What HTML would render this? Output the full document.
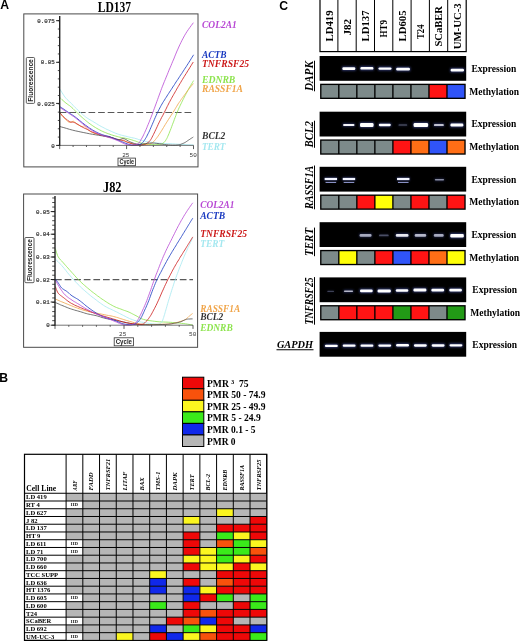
<!DOCTYPE html>
<html><head><meta charset="utf-8"><title>Figure</title>
<style>html,body{margin:0;padding:0;background:#fff}svg{display:block}</style></head>
<body><svg width="520" height="641" viewBox="0 0 520 641">
<rect x="0" y="0" width="520" height="641" fill="#fff"/>
<rect x="23.80" y="13.90" width="174.20" height="153.00" fill="#fff" stroke="#4a4a4a" stroke-width="1"/>
<line x1="59.70" y1="112.50" x2="193.50" y2="112.50" stroke="#3a3a3a" stroke-width="0.85" stroke-dasharray="6.7 2.9"/>
<polyline points="59.8,89.0 60.3,89.9 61.1,91.1 62.0,92.6 63.0,94.2 64.0,95.7 65.0,97.1 66.0,98.3 67.1,99.5 68.3,100.6 69.5,101.7 70.6,102.9 71.8,104.0 73.0,105.2 74.1,106.4 75.3,107.6 76.5,108.7 77.6,109.9 78.8,111.0 80.0,112.1 81.1,113.1 82.3,114.2 83.4,115.2 84.6,116.1 85.7,117.0 86.8,117.8 87.9,118.5 89.0,119.2 90.2,119.9 91.3,120.6 92.6,121.3 93.9,122.1 95.4,123.0 96.8,123.9 98.3,124.8 99.8,125.7 101.3,126.5 102.8,127.3 104.2,128.0 105.7,128.8 107.1,129.5 108.6,130.1 110.0,130.8 111.4,131.4 112.9,132.1 114.3,132.7 115.7,133.3 117.2,133.8 118.6,134.3 120.0,134.8 121.5,135.2 122.9,135.5 124.3,135.9 125.8,136.2 127.2,136.6 128.6,136.9 130.1,137.3 131.6,137.6 133.0,137.9 134.5,138.2 135.9,138.6 137.3,139.0 138.6,139.5 140.0,139.9 141.3,140.4 142.8,140.8 144.5,141.2 146.4,141.6 148.4,141.9 150.5,142.2 152.7,142.5 154.8,142.8 157.0,143.0 159.1,143.2 161.2,143.3 163.3,143.4 165.5,143.5 167.7,143.6 170.0,143.7 172.5,143.8 175.1,144.0 177.8,144.2 180.4,144.3 182.9,144.5 185.0,144.6 186.9,144.7 188.6,144.7 190.2,144.8 191.5,144.8 192.7,144.8 193.5,144.8" fill="none" stroke="#a4e8f0" stroke-width="0.8" stroke-linejoin="round"/>
<polyline points="59.8,97.5 60.3,98.0 61.1,98.7 62.0,99.6 63.0,100.5 64.0,101.4 65.0,102.3 66.0,103.1 67.1,103.9 68.3,104.8 69.5,105.6 70.6,106.5 71.8,107.5 73.0,108.6 74.1,109.7 75.3,110.9 76.5,112.1 77.6,113.3 78.8,114.4 80.0,115.5 81.1,116.5 82.3,117.6 83.4,118.6 84.6,119.5 85.7,120.5 86.8,121.4 87.9,122.3 89.0,123.2 90.2,124.0 91.3,124.8 92.6,125.7 93.9,126.6 95.4,127.5 96.8,128.4 98.3,129.2 99.8,130.0 101.3,130.8 102.8,131.5 104.2,132.1 105.7,132.7 107.1,133.3 108.6,133.8 110.0,134.3 111.4,134.8 112.9,135.3 114.3,135.7 115.7,136.1 117.2,136.5 118.6,136.9 120.0,137.2 121.5,137.5 122.9,137.8 124.3,138.0 125.8,138.3 127.2,138.6 128.7,139.0 130.2,139.4 131.8,139.9 133.3,140.4 134.7,140.8 135.9,141.2 136.9,141.6 137.7,141.9 138.4,142.2 139.1,142.5 140.0,142.7 141.0,143.0 142.3,143.3 143.7,143.5 145.3,143.8 146.9,144.0 148.5,144.2 150.0,144.4 151.4,144.5 152.9,144.6 154.3,144.6 155.6,144.7 156.9,144.6 158.0,144.6 158.9,144.5 159.7,144.5 160.4,144.4 161.1,144.2 161.7,144.0 162.3,143.7 162.9,143.3 163.5,142.9 164.1,142.4 164.6,141.8 165.1,141.2 165.7,140.4 166.2,139.5 166.8,138.5 167.3,137.5 167.8,136.3 168.4,135.0 169.0,133.6 169.6,132.0 170.3,130.3 171.0,128.5 171.7,126.6 172.4,124.7 173.1,122.9 173.8,121.1 174.4,119.3 175.1,117.5 175.8,115.8 176.4,114.0 177.1,112.4 177.8,110.8 178.4,109.4 179.0,107.9 179.7,106.6 180.3,105.2 181.0,103.8 181.7,102.4 182.3,101.1 183.0,99.7 183.7,98.4 184.3,97.1 185.0,95.8 185.7,94.5 186.3,93.2 187.0,92.0 187.6,90.7 188.3,89.5 189.0,88.2 189.8,86.8 190.7,85.4 191.6,83.9 192.4,82.6 193.1,81.4 193.6,80.6" fill="none" stroke="#8ce44c" stroke-width="0.8" stroke-linejoin="round"/>
<polyline points="59.8,112.5 60.2,113.0 60.7,113.7 61.3,114.5 61.9,115.4 62.6,116.3 63.2,117.0 63.8,117.7 64.4,118.3 65.0,118.9 65.5,119.5 66.1,120.0 66.7,120.5 67.3,121.0 67.8,121.4 68.3,121.8 68.9,122.1 69.4,122.4 70.0,122.5 70.6,122.4 71.2,122.2 71.8,121.8 72.4,121.5 73.0,121.3 73.6,121.3 74.2,121.6 74.7,122.0 75.2,122.5 75.7,123.1 76.3,123.7 77.0,124.2 77.8,124.7 78.7,125.1 79.7,125.6 80.6,126.0 81.5,126.3 82.2,126.5 82.7,126.5 83.2,126.3 83.5,126.1 83.8,125.8 84.1,125.7 84.5,125.8 84.9,126.1 85.3,126.6 85.8,127.2 86.2,127.8 86.8,128.5 87.4,129.1 88.1,129.7 88.8,130.3 89.6,130.9 90.5,131.5 91.5,132.1 92.6,132.6 93.8,133.1 95.2,133.6 96.7,134.0 98.3,134.4 99.8,134.8 101.3,135.2 102.8,135.5 104.3,135.8 105.8,136.0 107.2,136.3 108.7,136.6 110.0,136.9 111.2,137.3 112.4,137.8 113.5,138.3 114.6,138.7 115.7,139.2 116.8,139.5 118.0,139.7 119.2,139.8 120.5,139.9 121.6,139.9 122.7,140.0 123.7,140.2 124.4,140.4 124.9,140.7 125.3,141.0 125.8,141.4 126.4,141.7 127.2,142.1 128.3,142.5 129.7,142.9 131.1,143.4 132.7,143.9 134.3,144.2 135.9,144.5 137.6,144.7 139.4,144.7 141.2,144.8 143.0,144.7 144.6,144.7 146.0,144.6 147.1,144.5 147.9,144.4 148.6,144.2 149.1,144.1 149.7,143.9 150.2,143.7 150.7,143.5 151.2,143.4 151.6,143.3 152.0,143.1 152.4,142.8 152.9,142.4 153.5,141.8 154.1,141.1 154.8,140.3 155.5,139.5 156.2,138.6 156.9,137.7 157.6,136.8 158.2,135.9 158.9,134.9 159.5,133.9 160.2,132.8 161.0,131.6 161.8,130.3 162.6,129.0 163.5,127.5 164.4,126.0 165.3,124.5 166.3,122.9 167.4,121.2 168.5,119.4 169.7,117.6 170.9,115.7 172.0,114.0 173.0,112.4 173.9,111.0 174.7,109.7 175.4,108.5 176.1,107.3 176.8,106.2 177.5,105.0 178.2,103.8 179.0,102.7 179.8,101.6 180.5,100.5 181.2,99.5 182.0,98.4 182.8,97.3 183.5,96.3 184.3,95.2 185.1,94.2 185.8,93.2 186.5,92.3 187.1,91.4 187.7,90.6 188.3,89.9 188.9,89.1 189.4,88.4 190.0,87.7 190.6,86.9 191.2,86.1 191.9,85.3 192.5,84.6 192.9,84.0 193.3,83.5" fill="none" stroke="#f0a448" stroke-width="0.8" stroke-linejoin="round"/>
<polyline points="59.8,112.7 60.2,113.1 60.7,113.7 61.3,114.4 61.9,115.2 62.6,115.9 63.2,116.5 63.8,117.1 64.4,117.6 65.0,118.1 65.5,118.6 66.1,119.0 66.7,119.5 67.3,119.9 67.8,120.4 68.3,120.8 68.9,121.2 69.4,121.5 70.0,121.8 70.6,122.0 71.2,122.1 71.8,122.1 72.4,122.1 73.0,122.2 73.6,122.3 74.2,122.5 74.7,122.7 75.2,122.9 75.7,123.2 76.3,123.5 77.0,123.9 77.8,124.3 78.6,124.8 79.5,125.4 80.4,126.0 81.3,126.5 82.2,127.0 83.1,127.4 83.9,127.9 84.8,128.3 85.7,128.7 86.5,129.1 87.4,129.5 88.2,129.9 89.0,130.4 89.8,130.8 90.6,131.3 91.5,131.7 92.6,132.2 93.8,132.7 95.2,133.2 96.7,133.7 98.3,134.3 99.8,134.8 101.3,135.2 102.8,135.6 104.3,135.9 105.8,136.3 107.2,136.6 108.7,136.9 110.0,137.2 111.2,137.6 112.4,137.9 113.5,138.3 114.6,138.6 115.7,139.0 116.8,139.3 118.0,139.6 119.2,139.9 120.5,140.1 121.6,140.3 122.7,140.6 123.7,140.8 124.4,141.0 124.9,141.2 125.3,141.4 125.8,141.6 126.4,141.8 127.2,142.1 128.4,142.5 129.8,143.0 131.3,143.5 132.9,144.0 134.5,144.4 135.9,144.7 137.2,144.9 138.5,145.0 139.8,145.0 140.9,145.0 142.0,144.9 143.0,144.8 143.8,144.7 144.5,144.5 145.1,144.2 145.7,144.0 146.2,143.6 146.8,143.3 147.4,142.9 147.9,142.6 148.5,142.2 149.0,141.8 149.6,141.2 150.2,140.4 150.8,139.5 151.5,138.4 152.1,137.2 152.8,135.8 153.5,134.4 154.2,133.0 154.9,131.5 155.7,129.8 156.5,128.1 157.3,126.4 158.1,124.6 158.9,122.9 159.8,121.1 160.7,119.4 161.6,117.5 162.6,115.8 163.5,114.0 164.3,112.4 165.1,110.9 165.8,109.4 166.5,108.1 167.1,106.7 167.8,105.4 168.5,104.0 169.2,102.6 170.0,101.2 170.7,99.8 171.5,98.4 172.2,97.1 173.0,95.7 173.7,94.4 174.5,93.1 175.2,91.8 176.0,90.5 176.7,89.1 177.5,87.8 178.3,86.4 179.1,85.1 179.9,83.7 180.8,82.3 181.6,80.8 182.5,79.4 183.4,77.9 184.3,76.5 185.2,75.0 186.2,73.5 187.1,72.0 188.0,70.5 189.0,69.0 190.0,67.3 191.0,65.7 191.9,64.2 192.7,62.9 193.3,62.0" fill="none" stroke="#cc1818" stroke-width="0.8" stroke-linejoin="round"/>
<polyline points="59.8,126.5 61.5,127.0 63.8,127.6 66.5,128.4 69.4,129.3 72.4,130.1 75.3,130.8 78.1,131.4 80.9,132.0 83.8,132.6 86.8,133.2 89.7,133.8 92.6,134.3 95.6,134.8 98.7,135.3 101.8,135.8 104.8,136.3 107.6,136.8 110.0,137.2 112.0,137.7 113.6,138.1 115.1,138.6 116.3,139.0 117.5,139.3 118.6,139.5 119.6,139.5 120.5,139.3 121.2,139.0 122.0,138.7 122.8,138.5 123.7,138.6 124.7,138.9 125.8,139.5 127.0,140.2 128.2,140.9 129.4,141.5 130.7,142.1 132.0,142.6 133.3,143.1 134.6,143.5 136.1,143.9 137.6,144.2 139.3,144.3 141.2,144.3 143.2,144.0 145.3,143.7 147.5,143.3 149.7,143.1 152.0,143.0 154.4,143.1 156.8,143.4 159.4,143.7 161.9,144.1 164.3,144.5 166.5,144.7 168.5,144.9 170.5,145.0 172.3,145.1 174.0,145.1 175.6,145.1 177.1,145.0 178.5,144.8 179.7,144.6 180.8,144.3 181.8,143.9 182.8,143.5 183.8,143.1 184.8,142.6 185.7,142.1 186.7,141.4 187.5,140.8 188.4,140.2 189.2,139.7 190.0,139.2 190.8,138.6 191.6,138.1 192.3,137.7 192.9,137.3 193.3,137.0" fill="none" stroke="#505050" stroke-width="0.8" stroke-linejoin="round"/>
<polyline points="59.8,106.6 60.4,107.0 61.2,107.5 62.1,108.1 63.1,108.7 64.1,109.4 65.0,110.0 65.8,110.6 66.7,111.2 67.5,111.7 68.3,112.3 69.2,112.9 70.0,113.5 70.8,114.0 71.6,114.5 72.4,115.0 73.3,115.6 74.2,116.2 75.3,117.0 76.6,118.0 78.0,119.1 79.4,120.3 81.0,121.6 82.5,122.9 84.0,124.0 85.4,125.1 86.9,126.1 88.3,127.2 89.7,128.2 91.2,129.1 92.6,130.0 94.0,130.8 95.5,131.6 96.9,132.4 98.4,133.1 99.8,133.7 101.3,134.3 102.8,134.8 104.2,135.3 105.7,135.7 107.1,136.0 108.6,136.4 110.0,136.9 111.4,137.4 112.9,138.0 114.3,138.6 115.7,139.2 117.2,139.8 118.6,140.4 120.1,141.0 121.6,141.6 123.1,142.2 124.6,142.8 126.0,143.4 127.2,143.8 128.3,144.2 129.2,144.5 130.0,144.7 130.8,144.9 131.5,145.1 132.4,145.2 133.3,145.2 134.3,145.2 135.3,145.2 136.3,145.1 137.2,144.9 138.0,144.8 138.7,144.7 139.3,144.6 139.8,144.5 140.3,144.3 140.9,144.1 141.4,143.7 142.0,143.2 142.5,142.7 143.1,142.1 143.6,141.4 144.2,140.6 144.8,139.7 145.4,138.7 146.1,137.6 146.8,136.3 147.4,135.0 148.1,133.7 148.8,132.3 149.5,130.9 150.1,129.4 150.8,127.8 151.5,126.2 152.2,124.6 152.9,122.9 153.7,121.2 154.4,119.4 155.2,117.6 156.0,115.8 156.8,114.0 157.6,112.4 158.3,110.9 159.1,109.4 159.8,108.0 160.5,106.7 161.2,105.4 162.0,104.0 162.8,102.6 163.6,101.3 164.5,100.0 165.3,98.6 166.2,97.3 167.0,96.0 167.8,94.7 168.7,93.4 169.5,92.1 170.3,90.9 171.2,89.6 172.0,88.3 172.8,87.0 173.6,85.8 174.5,84.5 175.3,83.2 176.1,81.9 177.0,80.6 177.9,79.3 178.8,77.9 179.7,76.5 180.6,75.1 181.6,73.7 182.5,72.3 183.4,70.9 184.3,69.5 185.2,68.1 186.2,66.7 187.1,65.2 188.0,63.8 189.0,62.2 190.1,60.5 191.1,58.8 192.1,57.2 193.0,55.8 193.6,54.8" fill="none" stroke="#1838c0" stroke-width="0.8" stroke-linejoin="round"/>
<polyline points="59.8,107.5 60.4,107.9 61.2,108.4 62.1,108.9 63.1,109.6 64.1,110.2 65.0,110.8 65.8,111.4 66.7,111.9 67.5,112.5 68.3,113.0 69.2,113.6 70.0,114.2 70.8,114.7 71.6,115.3 72.4,115.8 73.3,116.3 74.2,117.0 75.3,117.8 76.6,118.8 78.0,119.9 79.4,121.1 81.0,122.4 82.5,123.7 84.0,124.8 85.4,125.9 86.9,126.9 88.3,128.0 89.7,129.0 91.2,129.9 92.6,130.8 94.0,131.6 95.5,132.4 96.9,133.1 98.4,133.8 99.8,134.4 101.3,135.0 102.8,135.5 104.2,136.0 105.7,136.5 107.1,136.9 108.6,137.3 110.0,137.8 111.5,138.3 113.0,138.8 114.4,139.4 115.9,139.9 117.3,140.5 118.6,141.0 119.8,141.5 120.9,142.1 121.9,142.6 122.9,143.1 123.9,143.6 125.0,144.0 126.1,144.3 127.3,144.6 128.5,144.9 129.7,145.1 130.9,145.2 132.0,145.2 133.1,145.1 134.2,145.0 135.3,144.8 136.3,144.5 137.3,144.1 138.1,143.6 138.8,143.0 139.4,142.4 139.9,141.6 140.4,140.8 140.9,139.9 141.4,139.0 142.0,138.0 142.5,137.0 143.1,136.0 143.6,134.8 144.2,133.6 144.8,132.3 145.4,130.9 146.1,129.4 146.8,127.8 147.4,126.2 148.1,124.6 148.8,122.9 149.5,121.2 150.1,119.6 150.8,117.9 151.5,116.1 152.2,114.3 152.9,112.4 153.6,110.4 154.4,108.3 155.2,106.1 156.0,103.9 156.8,101.7 157.6,99.5 158.4,97.3 159.2,95.1 160.0,92.9 160.8,90.7 161.6,88.5 162.5,86.2 163.4,84.0 164.3,81.7 165.3,79.4 166.2,77.1 167.2,74.8 168.1,72.5 169.0,70.2 170.0,67.9 171.0,65.6 171.9,63.4 172.8,61.2 173.8,59.0 174.6,56.9 175.4,54.9 176.2,53.0 177.0,51.0 177.9,49.1 178.8,47.0 179.8,44.8 180.9,42.6 182.0,40.3 183.2,38.1 184.4,35.8 185.6,33.8 186.9,31.7 188.4,29.5 189.9,27.4 191.3,25.5 192.5,23.9 193.3,22.7" fill="none" stroke="#b848d4" stroke-width="0.8" stroke-linejoin="round"/>
<line x1="59.70" y1="15.90" x2="59.70" y2="145.90" stroke="#222" stroke-width="1.4"/>
<line x1="59.70" y1="145.40" x2="193.50" y2="145.40" stroke="#333" stroke-width="0.9" opacity="0.75"/>
<line x1="56.10" y1="20.70" x2="59.70" y2="20.70" stroke="#222" stroke-width="1"/>
<text x="54.7" y="22.8" font-family='"Liberation Mono","DejaVu Sans Mono",monospace' font-size="5.8" font-weight="normal" font-style="normal" fill="#333" text-anchor="end" stroke="#333" stroke-width="0.2">0.075</text>
<line x1="56.10" y1="62.30" x2="59.70" y2="62.30" stroke="#222" stroke-width="1"/>
<text x="54.7" y="64.39999999999999" font-family='"Liberation Mono","DejaVu Sans Mono",monospace' font-size="5.8" font-weight="normal" font-style="normal" fill="#333" text-anchor="end" stroke="#333" stroke-width="0.2">0.05</text>
<line x1="56.10" y1="103.40" x2="59.70" y2="103.40" stroke="#222" stroke-width="1"/>
<text x="54.7" y="105.5" font-family='"Liberation Mono","DejaVu Sans Mono",monospace' font-size="5.8" font-weight="normal" font-style="normal" fill="#333" text-anchor="end" stroke="#333" stroke-width="0.2">0.025</text>
<line x1="56.10" y1="145.40" x2="59.70" y2="145.40" stroke="#222" stroke-width="1"/>
<text x="54.7" y="147.5" font-family='"Liberation Mono","DejaVu Sans Mono",monospace' font-size="5.8" font-weight="normal" font-style="normal" fill="#333" text-anchor="end" stroke="#333" stroke-width="0.2">0</text>
<line x1="57.80" y1="145.40" x2="59.70" y2="145.40" stroke="#222" stroke-width="0.8"/>
<line x1="57.80" y1="137.09" x2="59.70" y2="137.09" stroke="#222" stroke-width="0.8"/>
<line x1="57.80" y1="128.77" x2="59.70" y2="128.77" stroke="#222" stroke-width="0.8"/>
<line x1="57.80" y1="120.46" x2="59.70" y2="120.46" stroke="#222" stroke-width="0.8"/>
<line x1="57.80" y1="112.15" x2="59.70" y2="112.15" stroke="#222" stroke-width="0.8"/>
<line x1="57.80" y1="103.83" x2="59.70" y2="103.83" stroke="#222" stroke-width="0.8"/>
<line x1="57.80" y1="95.52" x2="59.70" y2="95.52" stroke="#222" stroke-width="0.8"/>
<line x1="57.80" y1="87.21" x2="59.70" y2="87.21" stroke="#222" stroke-width="0.8"/>
<line x1="57.80" y1="78.89" x2="59.70" y2="78.89" stroke="#222" stroke-width="0.8"/>
<line x1="57.80" y1="70.58" x2="59.70" y2="70.58" stroke="#222" stroke-width="0.8"/>
<line x1="57.80" y1="62.27" x2="59.70" y2="62.27" stroke="#222" stroke-width="0.8"/>
<line x1="57.80" y1="53.95" x2="59.70" y2="53.95" stroke="#222" stroke-width="0.8"/>
<line x1="57.80" y1="45.64" x2="59.70" y2="45.64" stroke="#222" stroke-width="0.8"/>
<line x1="57.80" y1="37.33" x2="59.70" y2="37.33" stroke="#222" stroke-width="0.8"/>
<line x1="57.80" y1="29.01" x2="59.70" y2="29.01" stroke="#222" stroke-width="0.8"/>
<line x1="57.80" y1="20.70" x2="59.70" y2="20.70" stroke="#222" stroke-width="0.8"/>
<line x1="59.70" y1="145.40" x2="59.70" y2="149.10" stroke="#333" stroke-width="0.8"/>
<line x1="73.08" y1="145.40" x2="73.08" y2="147.00" stroke="#333" stroke-width="0.8"/>
<line x1="86.46" y1="145.40" x2="86.46" y2="147.00" stroke="#333" stroke-width="0.8"/>
<line x1="99.84" y1="145.40" x2="99.84" y2="147.00" stroke="#333" stroke-width="0.8"/>
<line x1="113.22" y1="145.40" x2="113.22" y2="147.00" stroke="#333" stroke-width="0.8"/>
<line x1="126.60" y1="145.40" x2="126.60" y2="149.10" stroke="#333" stroke-width="0.8"/>
<line x1="139.98" y1="145.40" x2="139.98" y2="147.00" stroke="#333" stroke-width="0.8"/>
<line x1="153.36" y1="145.40" x2="153.36" y2="147.00" stroke="#333" stroke-width="0.8"/>
<line x1="166.74" y1="145.40" x2="166.74" y2="147.00" stroke="#333" stroke-width="0.8"/>
<line x1="180.12" y1="145.40" x2="180.12" y2="147.00" stroke="#333" stroke-width="0.8"/>
<line x1="193.50" y1="145.40" x2="193.50" y2="149.10" stroke="#333" stroke-width="0.8"/>
<text x="125.8" y="156.5" font-family='"Liberation Mono","DejaVu Sans Mono",monospace' font-size="6" font-weight="normal" font-style="normal" fill="#333" text-anchor="middle">25</text>
<text x="193.2" y="156.5" font-family='"Liberation Mono","DejaVu Sans Mono",monospace' font-size="6" font-weight="normal" font-style="normal" fill="#333" text-anchor="middle">50</text>
<rect x="26.30" y="57.50" width="8.30" height="45.90" fill="#fff" stroke="#333" stroke-width="0.8" rx="1"/>
<text x="32.85" y="80.45" font-family='"Liberation Sans","DejaVu Sans",sans-serif' font-size="7" font-weight="bold" font-style="normal" fill="#222" text-anchor="middle" transform="rotate(-90 32.85 80.45)" textLength="42.400000000000006" lengthAdjust="spacingAndGlyphs">Fluorescence</text>
<rect x="118.00" y="158.10" width="17.50" height="7.60" fill="#fff" stroke="#333" stroke-width="0.8"/>
<text x="126.75" y="164.1" font-family='"Liberation Sans","DejaVu Sans",sans-serif' font-size="6.8" font-weight="bold" font-style="normal" fill="#222" text-anchor="middle" textLength="14.5" lengthAdjust="spacingAndGlyphs">Cycle</text>
<text x="97.7" y="12.2" font-family='"Liberation Serif","DejaVu Serif",serif' font-size="13.6" font-weight="bold" font-style="normal" fill="#000" text-anchor="start" textLength="33.4" lengthAdjust="spacingAndGlyphs">LD137</text>
<text x="202" y="28.3" font-family='"Liberation Serif","DejaVu Serif",serif' font-size="10.6" font-weight="bold" font-style="italic" fill="#b848d4" text-anchor="start" textLength="34.7" lengthAdjust="spacingAndGlyphs">COL2A1</text>
<text x="202" y="58" font-family='"Liberation Serif","DejaVu Serif",serif' font-size="10.6" font-weight="bold" font-style="italic" fill="#1838c0" text-anchor="start" textLength="24.6" lengthAdjust="spacingAndGlyphs">ACTB</text>
<text x="202" y="67.4" font-family='"Liberation Serif","DejaVu Serif",serif' font-size="10.6" font-weight="bold" font-style="italic" fill="#cc1818" text-anchor="start" textLength="47" lengthAdjust="spacingAndGlyphs">TNFRSF25</text>
<text x="202" y="83.3" font-family='"Liberation Serif","DejaVu Serif",serif' font-size="10.6" font-weight="bold" font-style="italic" fill="#8ce44c" text-anchor="start" textLength="33.3" lengthAdjust="spacingAndGlyphs">EDNRB</text>
<text x="202" y="92.4" font-family='"Liberation Serif","DejaVu Serif",serif' font-size="10.6" font-weight="bold" font-style="italic" fill="#f0a448" text-anchor="start" textLength="41" lengthAdjust="spacingAndGlyphs">RASSF1A</text>
<text x="202" y="138.8" font-family='"Liberation Serif","DejaVu Serif",serif' font-size="10.6" font-weight="bold" font-style="italic" fill="#333" text-anchor="start" textLength="23.4" lengthAdjust="spacingAndGlyphs">BCL2</text>
<text x="202" y="149.8" font-family='"Liberation Serif","DejaVu Serif",serif' font-size="10.6" font-weight="bold" font-style="italic" fill="#a4e8f0" text-anchor="start" textLength="23.4" lengthAdjust="spacingAndGlyphs">TERT</text>
<rect x="23.60" y="194.00" width="174.00" height="153.30" fill="#fff" stroke="#4a4a4a" stroke-width="1"/>
<line x1="55.00" y1="279.50" x2="193.00" y2="279.50" stroke="#5a5a5a" stroke-width="1.25" stroke-dasharray="6.7 2.9"/>
<polyline points="55.3,248.5 55.6,249.4 56.0,250.7 56.4,252.3 57.0,253.9 57.5,255.4 58.2,256.8 58.9,257.9 59.7,258.9 60.5,259.9 61.5,260.8 62.4,261.8 63.4,262.9 64.4,264.1 65.5,265.3 66.6,266.6 67.8,267.9 69.0,269.3 70.3,270.7 71.6,272.2 73.1,273.8 74.5,275.4 76.0,277.1 77.5,278.7 79.0,280.2 80.4,281.6 81.9,283.0 83.3,284.3 84.7,285.5 86.2,286.8 87.6,288.0 89.0,289.2 90.5,290.4 91.9,291.6 93.4,292.7 94.9,293.8 96.3,294.9 97.7,296.0 99.2,297.0 100.6,298.1 102.0,299.1 103.5,300.0 104.9,301.0 106.3,301.9 107.8,302.9 109.3,303.8 110.7,304.6 112.2,305.4 113.6,306.2 115.1,306.9 116.5,307.5 118.0,308.1 119.5,308.6 120.9,309.1 122.2,309.6 123.4,310.1 124.6,310.5 125.8,310.9 126.9,311.3 128.0,311.7 129.1,312.2 130.2,312.7 131.4,313.3 132.5,313.9 133.7,314.5 134.8,315.1 136.0,315.7 137.1,316.3 138.2,317.0 139.3,317.6 140.5,318.3 141.9,318.9 143.5,319.4 145.4,319.9 147.6,320.3 149.9,320.7 152.3,321.0 154.7,321.3 157.0,321.6 159.2,321.8 161.5,321.9 163.7,322.0 165.9,322.1 168.2,322.2 170.4,322.3 172.7,322.5 175.0,322.7 177.4,322.9 179.7,323.1 181.8,323.4 183.8,323.6 185.6,323.8 187.4,324.1 189.0,324.4 190.5,324.6 191.7,324.8 192.6,325.0" fill="none" stroke="#8ce44c" stroke-width="0.8" stroke-linejoin="round"/>
<polyline points="55.3,259.0 56.0,259.7 56.9,260.5 58.0,261.6 59.2,262.8 60.4,264.1 61.7,265.5 63.0,267.0 64.4,268.7 65.9,270.5 67.3,272.4 68.8,274.2 70.3,275.9 71.7,277.6 73.2,279.2 74.6,280.8 76.1,282.4 77.6,283.9 79.0,285.4 80.4,286.8 81.9,288.2 83.3,289.5 84.7,290.7 86.2,292.0 87.6,293.2 89.0,294.4 90.5,295.6 91.9,296.8 93.4,297.9 94.9,299.0 96.3,300.1 97.7,301.2 99.2,302.3 100.6,303.3 102.0,304.3 103.5,305.3 104.9,306.2 106.3,307.0 107.8,307.8 109.3,308.5 110.7,309.1 112.2,309.8 113.6,310.5 115.0,311.2 116.5,311.9 117.9,312.6 119.3,313.4 120.8,314.1 122.2,314.8 123.6,315.5 125.1,316.3 126.5,317.1 128.0,317.8 129.5,318.5 130.9,319.1 132.3,319.6 133.7,320.1 135.0,320.6 136.4,320.9 137.9,321.3 139.5,321.7 141.3,322.1 143.2,322.4 145.3,322.8 147.3,323.1 149.3,323.4 151.0,323.6 152.6,323.8 154.1,324.0 155.5,324.1 156.8,324.2 158.0,324.1 159.0,324.0 159.8,323.8 160.5,323.4 161.0,323.0 161.4,322.5 161.8,321.8 162.3,321.0 162.8,320.0 163.2,318.7 163.7,317.4 164.1,315.9 164.6,314.4 165.0,312.9 165.4,311.4 165.9,309.9 166.3,308.4 166.8,306.8 167.2,305.2 167.7,303.5 168.2,301.8 168.7,300.1 169.3,298.3 169.8,296.5 170.4,294.6 171.0,292.7 171.6,290.7 172.3,288.5 173.0,286.4 173.7,284.2 174.4,282.0 175.1,279.9 175.8,277.8 176.6,275.8 177.3,273.8 178.1,271.8 178.8,269.9 179.5,268.0 180.2,266.2 180.9,264.5 181.6,262.8 182.2,261.1 182.9,259.5 183.5,258.0 184.1,256.5 184.7,255.1 185.3,253.8 185.9,252.5 186.5,251.2 187.0,250.0 187.5,248.8 188.0,247.7 188.5,246.7 189.0,245.7 189.5,244.6 190.0,243.6 190.5,242.5 191.0,241.3 191.6,240.1 192.0,239.1 192.5,238.2 192.8,237.5" fill="none" stroke="#a4e8f0" stroke-width="0.8" stroke-linejoin="round"/>
<polyline points="55.3,299.0 56.0,299.3 56.9,299.7 58.0,300.2 59.2,300.7 60.4,301.3 61.7,301.8 63.0,302.3 64.4,302.9 65.9,303.5 67.3,304.1 68.8,304.7 70.3,305.3 71.7,305.9 73.2,306.5 74.6,307.1 76.1,307.6 77.6,308.2 79.0,308.7 80.3,309.2 81.6,309.6 82.8,310.0 84.1,310.4 85.7,310.8 87.6,311.3 90.1,311.9 93.0,312.5 96.2,313.1 99.4,313.7 102.4,314.3 104.9,314.8 106.8,315.2 108.4,315.5 109.8,315.7 111.0,315.9 112.3,316.2 113.6,316.5 115.0,316.9 116.5,317.3 117.9,317.7 119.3,318.2 120.8,318.7 122.2,319.1 123.6,319.5 125.0,320.0 126.4,320.4 127.8,320.8 129.3,321.3 130.9,321.7 132.5,322.2 134.2,322.7 135.9,323.2 137.8,323.6 139.8,324.0 142.1,324.3 144.8,324.5 147.8,324.5 151.0,324.5 154.2,324.4 157.3,324.4 160.0,324.3 162.4,324.2 164.6,324.2 166.6,324.1 168.5,324.0 170.3,323.8 172.0,323.6 173.6,323.3 175.0,323.0 176.3,322.7 177.5,322.3 178.7,321.9 179.8,321.6 180.9,321.3 181.8,321.0 182.7,320.7 183.6,320.4 184.4,320.0 185.2,319.6 186.0,319.1 186.7,318.5 187.3,317.9 188.0,317.3 188.6,316.7 189.2,316.2 189.8,315.7 190.5,315.1 191.1,314.6 191.7,314.2 192.2,313.8 192.6,313.5" fill="none" stroke="#f0a448" stroke-width="0.8" stroke-linejoin="round"/>
<polyline points="55.3,302.5 56.0,302.8 56.9,303.2 58.0,303.7 59.2,304.2 60.4,304.8 61.7,305.3 63.0,305.8 64.4,306.4 65.9,307.0 67.3,307.6 68.8,308.2 70.3,308.7 71.7,309.2 73.2,309.6 74.6,310.1 76.1,310.5 77.6,310.9 79.0,311.3 80.4,311.7 81.9,312.2 83.3,312.6 84.7,313.1 86.2,313.5 87.6,313.9 89.0,314.2 90.5,314.5 91.9,314.8 93.4,315.1 94.9,315.4 96.3,315.7 97.7,316.1 99.2,316.5 100.6,317.0 102.0,317.5 103.5,317.9 104.9,318.3 106.3,318.6 107.8,318.9 109.3,319.2 110.7,319.5 112.2,319.7 113.6,320.0 115.0,320.3 116.5,320.6 117.9,320.8 119.3,321.1 120.8,321.4 122.2,321.7 123.6,322.0 125.0,322.3 126.4,322.6 127.8,322.9 129.3,323.2 130.9,323.5 132.5,323.8 134.0,324.0 135.6,324.2 137.4,324.4 139.5,324.6 142.1,324.7 145.4,324.7 149.4,324.8 153.8,324.7 158.1,324.6 162.1,324.5 165.4,324.4 167.9,324.2 170.0,324.0 171.7,323.8 173.2,323.5 174.5,323.2 175.8,323.0 177.0,322.8 177.9,322.6 178.8,322.4 179.5,322.1 180.3,321.9 181.1,321.6 182.0,321.2 182.9,320.8 183.7,320.4 184.6,320.0 185.6,319.6 186.5,319.3 187.5,319.1 188.7,319.0 189.9,319.0 191.0,318.9 191.9,318.9 192.6,318.9" fill="none" stroke="#505050" stroke-width="0.8" stroke-linejoin="round"/>
<polyline points="55.3,286.5 55.6,287.3 56.0,288.3 56.4,289.6 57.0,290.9 57.5,292.1 58.2,293.2 58.9,294.0 59.7,294.8 60.5,295.4 61.5,296.1 62.4,296.8 63.4,297.5 64.4,298.3 65.5,299.2 66.6,300.1 67.8,301.0 69.0,301.9 70.3,302.7 71.6,303.5 73.1,304.2 74.5,305.0 76.0,305.7 77.5,306.3 79.0,307.0 80.4,307.6 81.9,308.2 83.3,308.8 84.7,309.4 86.2,309.9 87.6,310.5 89.0,311.1 90.5,311.7 91.9,312.3 93.4,312.8 94.9,313.4 96.3,313.9 97.7,314.4 99.2,314.8 100.6,315.2 102.0,315.7 103.5,316.1 104.9,316.5 106.3,316.9 107.8,317.4 109.3,317.8 110.7,318.2 112.2,318.7 113.6,319.1 115.0,319.5 116.5,320.0 117.9,320.4 119.3,320.9 120.8,321.3 122.2,321.7 123.6,322.1 125.0,322.4 126.4,322.7 127.8,323.0 129.3,323.3 130.9,323.5 132.7,323.7 134.7,324.0 136.8,324.2 138.9,324.3 140.7,324.4 142.1,324.3 143.1,324.1 143.8,323.8 144.3,323.4 144.7,323.0 145.0,322.5 145.5,322.0 146.0,321.5 146.6,321.0 147.1,320.4 147.6,319.8 148.2,319.1 148.8,318.3 149.4,317.4 150.1,316.4 150.8,315.3 151.5,314.1 152.2,312.8 152.9,311.5 153.6,310.1 154.4,308.7 155.2,307.1 156.0,305.5 156.8,303.9 157.6,302.1 158.5,300.2 159.4,298.2 160.3,296.1 161.2,294.0 162.1,291.9 163.0,290.0 163.8,288.2 164.6,286.4 165.4,284.7 166.2,283.1 166.9,281.5 167.7,279.9 168.4,278.4 169.2,277.0 169.9,275.6 170.6,274.2 171.3,272.9 172.0,271.5 172.7,270.1 173.5,268.8 174.2,267.4 175.0,266.1 175.7,264.8 176.5,263.5 177.2,262.2 178.0,261.0 178.8,259.7 179.5,258.5 180.2,257.2 181.0,256.0 181.8,254.8 182.5,253.6 183.3,252.3 184.0,251.1 184.8,250.0 185.5,248.8 186.2,247.7 186.9,246.5 187.6,245.4 188.2,244.4 188.9,243.3 189.5,242.3 190.1,241.3 190.8,240.2 191.4,239.2 191.9,238.3 192.4,237.5 192.8,236.9" fill="none" stroke="#cc1818" stroke-width="0.8" stroke-linejoin="round"/>
<polyline points="55.3,279.0 55.6,279.4 56.0,279.9 56.5,280.6 57.1,281.3 57.6,282.0 58.2,282.8 58.7,283.6 59.3,284.5 59.8,285.4 60.4,286.3 61.0,287.2 61.7,288.0 62.5,288.7 63.3,289.2 64.1,289.8 65.0,290.3 65.9,290.8 66.8,291.4 67.6,292.1 68.5,292.8 69.3,293.5 70.1,294.3 71.0,295.1 72.0,295.8 73.0,296.5 74.1,297.1 75.3,297.8 76.5,298.5 77.7,299.2 79.0,300.1 80.3,301.1 81.7,302.2 83.2,303.4 84.7,304.7 86.1,305.9 87.6,307.0 89.0,308.1 90.5,309.2 91.9,310.2 93.4,311.2 94.9,312.2 96.3,313.1 97.7,313.9 99.2,314.7 100.6,315.5 102.0,316.2 103.5,316.8 104.9,317.4 106.3,317.9 107.8,318.4 109.3,318.8 110.7,319.1 112.2,319.5 113.6,320.0 115.1,320.6 116.5,321.2 118.0,321.8 119.5,322.5 120.9,323.0 122.2,323.5 123.5,323.8 124.7,324.1 125.9,324.3 127.0,324.4 128.1,324.5 129.1,324.6 130.1,324.7 131.1,324.7 132.0,324.6 132.9,324.6 133.8,324.5 134.5,324.3 135.1,324.1 135.6,323.8 136.1,323.5 136.5,323.2 136.9,322.8 137.4,322.3 137.9,321.8 138.5,321.2 139.1,320.6 139.7,319.9 140.2,319.2 140.8,318.3 141.3,317.4 141.9,316.3 142.4,315.2 142.9,314.1 143.5,312.8 144.1,311.5 144.7,310.1 145.4,308.6 146.1,307.1 146.8,305.4 147.5,303.8 148.2,302.1 148.9,300.4 149.5,298.6 150.2,296.8 150.8,295.0 151.5,293.2 152.2,291.3 152.9,289.4 153.7,287.5 154.5,285.5 155.3,283.5 156.1,281.7 156.9,279.9 157.7,278.3 158.4,276.8 159.2,275.3 159.9,273.9 160.7,272.5 161.5,271.0 162.3,269.4 163.1,267.8 164.0,266.2 164.8,264.6 165.7,263.0 166.5,261.5 167.3,260.0 168.2,258.5 169.0,257.1 169.8,255.6 170.7,254.2 171.5,252.8 172.3,251.4 173.2,250.0 174.0,248.7 174.8,247.3 175.7,246.0 176.5,244.6 177.3,243.2 178.2,241.9 179.0,240.5 179.8,239.2 180.7,237.9 181.5,236.5 182.4,235.1 183.2,233.7 184.1,232.3 184.9,230.9 185.8,229.5 186.5,228.3 187.2,227.2 187.8,226.2 188.4,225.2 188.9,224.3 189.5,223.5 190.0,222.6 190.5,221.7 191.1,220.8 191.6,220.0 192.1,219.2 192.5,218.6 192.8,218.1" fill="none" stroke="#1838c0" stroke-width="0.8" stroke-linejoin="round"/>
<polyline points="55.3,280.0 55.8,280.9 56.5,282.1 57.3,283.6 58.2,285.1 59.0,286.6 59.9,288.0 60.7,289.2 61.5,290.4 62.4,291.6 63.2,292.8 64.1,293.9 65.1,294.9 66.2,295.9 67.3,296.8 68.4,297.7 69.6,298.5 70.8,299.3 72.0,300.1 73.1,300.9 74.3,301.6 75.4,302.2 76.5,302.9 77.7,303.6 79.0,304.4 80.3,305.2 81.7,306.1 83.2,307.0 84.7,307.9 86.1,308.8 87.6,309.6 89.0,310.4 90.5,311.1 91.9,311.9 93.4,312.6 94.9,313.2 96.3,313.9 97.7,314.5 99.2,315.1 100.6,315.7 102.0,316.3 103.5,316.8 104.9,317.4 106.3,318.0 107.8,318.6 109.3,319.2 110.7,319.7 112.2,320.3 113.6,320.9 115.1,321.5 116.6,322.1 118.1,322.8 119.6,323.4 121.0,323.9 122.2,324.3 123.3,324.6 124.2,324.8 125.0,325.0 125.8,325.1 126.5,325.2 127.4,325.2 128.3,325.2 129.3,325.1 130.3,325.0 131.3,324.8 132.2,324.6 133.0,324.4 133.7,324.1 134.2,323.9 134.7,323.5 135.2,323.2 135.6,322.8 136.1,322.3 136.6,321.8 137.0,321.2 137.4,320.6 137.8,319.9 138.3,319.2 138.8,318.3 139.3,317.4 139.8,316.3 140.3,315.2 140.9,314.1 141.5,312.8 142.1,311.5 142.7,310.1 143.4,308.6 144.1,307.1 144.8,305.4 145.5,303.8 146.2,302.1 146.9,300.4 147.5,298.6 148.2,296.8 148.9,295.0 149.5,293.2 150.2,291.3 150.9,289.4 151.5,287.5 152.2,285.6 152.8,283.7 153.5,281.8 154.2,279.9 154.9,278.0 155.6,276.0 156.3,274.1 157.1,272.2 157.8,270.3 158.5,268.5 159.2,266.8 159.8,265.1 160.5,263.4 161.1,261.8 161.8,260.2 162.5,258.5 163.2,256.8 163.9,255.2 164.7,253.5 165.4,251.8 166.2,250.2 167.0,248.5 167.8,246.8 168.6,245.2 169.5,243.5 170.3,241.8 171.2,240.2 172.0,238.5 172.8,236.8 173.7,235.1 174.5,233.5 175.3,231.8 176.2,230.1 177.0,228.5 177.8,226.9 178.6,225.4 179.5,223.8 180.3,222.3 181.1,220.8 182.0,219.3 182.9,217.8 183.8,216.2 184.7,214.7 185.7,213.2 186.6,211.7 187.5,210.3 188.5,208.9 189.5,207.4 190.5,206.0 191.4,204.7 192.2,203.6 192.8,202.8" fill="none" stroke="#b848d4" stroke-width="0.8" stroke-linejoin="round"/>
<line x1="55.00" y1="196.00" x2="55.00" y2="325.70" stroke="#222" stroke-width="1.4"/>
<line x1="55.00" y1="325.20" x2="193.00" y2="325.20" stroke="#333" stroke-width="0.9" opacity="0.75"/>
<line x1="50.70" y1="211.60" x2="55.00" y2="211.60" stroke="#222" stroke-width="1"/>
<text x="49.800000000000004" y="213.7" font-family='"Liberation Mono","DejaVu Sans Mono",monospace' font-size="5.8" font-weight="normal" font-style="normal" fill="#333" text-anchor="end" stroke="#333" stroke-width="0.2">0.05</text>
<line x1="50.70" y1="234.20" x2="55.00" y2="234.20" stroke="#222" stroke-width="1"/>
<text x="49.800000000000004" y="236.29999999999998" font-family='"Liberation Mono","DejaVu Sans Mono",monospace' font-size="5.8" font-weight="normal" font-style="normal" fill="#333" text-anchor="end" stroke="#333" stroke-width="0.2">0.04</text>
<line x1="50.70" y1="257.00" x2="55.00" y2="257.00" stroke="#222" stroke-width="1"/>
<text x="49.800000000000004" y="259.1" font-family='"Liberation Mono","DejaVu Sans Mono",monospace' font-size="5.8" font-weight="normal" font-style="normal" fill="#333" text-anchor="end" stroke="#333" stroke-width="0.2">0.03</text>
<line x1="50.70" y1="279.50" x2="55.00" y2="279.50" stroke="#222" stroke-width="1"/>
<text x="49.800000000000004" y="281.6" font-family='"Liberation Mono","DejaVu Sans Mono",monospace' font-size="5.8" font-weight="normal" font-style="normal" fill="#333" text-anchor="end" stroke="#333" stroke-width="0.2">0.02</text>
<line x1="50.70" y1="302.00" x2="55.00" y2="302.00" stroke="#222" stroke-width="1"/>
<text x="49.800000000000004" y="304.1" font-family='"Liberation Mono","DejaVu Sans Mono",monospace' font-size="5.8" font-weight="normal" font-style="normal" fill="#333" text-anchor="end" stroke="#333" stroke-width="0.2">0.01</text>
<line x1="50.70" y1="325.20" x2="55.00" y2="325.20" stroke="#222" stroke-width="1"/>
<text x="49.800000000000004" y="327.3" font-family='"Liberation Mono","DejaVu Sans Mono",monospace' font-size="5.8" font-weight="normal" font-style="normal" fill="#333" text-anchor="end" stroke="#333" stroke-width="0.2">0</text>
<line x1="52.20" y1="325.20" x2="55.00" y2="325.20" stroke="#222" stroke-width="0.8"/>
<line x1="52.20" y1="320.66" x2="55.00" y2="320.66" stroke="#222" stroke-width="0.8"/>
<line x1="52.20" y1="316.11" x2="55.00" y2="316.11" stroke="#222" stroke-width="0.8"/>
<line x1="52.20" y1="311.57" x2="55.00" y2="311.57" stroke="#222" stroke-width="0.8"/>
<line x1="52.20" y1="307.02" x2="55.00" y2="307.02" stroke="#222" stroke-width="0.8"/>
<line x1="52.20" y1="302.48" x2="55.00" y2="302.48" stroke="#222" stroke-width="0.8"/>
<line x1="52.20" y1="297.94" x2="55.00" y2="297.94" stroke="#222" stroke-width="0.8"/>
<line x1="52.20" y1="293.39" x2="55.00" y2="293.39" stroke="#222" stroke-width="0.8"/>
<line x1="52.20" y1="288.85" x2="55.00" y2="288.85" stroke="#222" stroke-width="0.8"/>
<line x1="52.20" y1="284.30" x2="55.00" y2="284.30" stroke="#222" stroke-width="0.8"/>
<line x1="52.20" y1="279.76" x2="55.00" y2="279.76" stroke="#222" stroke-width="0.8"/>
<line x1="52.20" y1="275.22" x2="55.00" y2="275.22" stroke="#222" stroke-width="0.8"/>
<line x1="52.20" y1="270.67" x2="55.00" y2="270.67" stroke="#222" stroke-width="0.8"/>
<line x1="52.20" y1="266.13" x2="55.00" y2="266.13" stroke="#222" stroke-width="0.8"/>
<line x1="52.20" y1="261.58" x2="55.00" y2="261.58" stroke="#222" stroke-width="0.8"/>
<line x1="52.20" y1="257.04" x2="55.00" y2="257.04" stroke="#222" stroke-width="0.8"/>
<line x1="52.20" y1="252.50" x2="55.00" y2="252.50" stroke="#222" stroke-width="0.8"/>
<line x1="52.20" y1="247.95" x2="55.00" y2="247.95" stroke="#222" stroke-width="0.8"/>
<line x1="52.20" y1="243.41" x2="55.00" y2="243.41" stroke="#222" stroke-width="0.8"/>
<line x1="52.20" y1="238.86" x2="55.00" y2="238.86" stroke="#222" stroke-width="0.8"/>
<line x1="52.20" y1="234.32" x2="55.00" y2="234.32" stroke="#222" stroke-width="0.8"/>
<line x1="52.20" y1="229.78" x2="55.00" y2="229.78" stroke="#222" stroke-width="0.8"/>
<line x1="52.20" y1="225.23" x2="55.00" y2="225.23" stroke="#222" stroke-width="0.8"/>
<line x1="52.20" y1="220.69" x2="55.00" y2="220.69" stroke="#222" stroke-width="0.8"/>
<line x1="52.20" y1="216.14" x2="55.00" y2="216.14" stroke="#222" stroke-width="0.8"/>
<line x1="52.20" y1="211.60" x2="55.00" y2="211.60" stroke="#222" stroke-width="0.8"/>
<line x1="52.20" y1="207.06" x2="55.00" y2="207.06" stroke="#222" stroke-width="0.8"/>
<line x1="52.20" y1="202.51" x2="55.00" y2="202.51" stroke="#222" stroke-width="0.8"/>
<line x1="52.20" y1="197.97" x2="55.00" y2="197.97" stroke="#222" stroke-width="0.8"/>
<line x1="55.00" y1="325.20" x2="55.00" y2="328.90" stroke="#333" stroke-width="0.8"/>
<line x1="68.80" y1="325.20" x2="68.80" y2="326.80" stroke="#333" stroke-width="0.8"/>
<line x1="82.60" y1="325.20" x2="82.60" y2="326.80" stroke="#333" stroke-width="0.8"/>
<line x1="96.40" y1="325.20" x2="96.40" y2="326.80" stroke="#333" stroke-width="0.8"/>
<line x1="110.20" y1="325.20" x2="110.20" y2="326.80" stroke="#333" stroke-width="0.8"/>
<line x1="124.00" y1="325.20" x2="124.00" y2="328.90" stroke="#333" stroke-width="0.8"/>
<line x1="137.80" y1="325.20" x2="137.80" y2="326.80" stroke="#333" stroke-width="0.8"/>
<line x1="151.60" y1="325.20" x2="151.60" y2="326.80" stroke="#333" stroke-width="0.8"/>
<line x1="165.40" y1="325.20" x2="165.40" y2="326.80" stroke="#333" stroke-width="0.8"/>
<line x1="179.20" y1="325.20" x2="179.20" y2="326.80" stroke="#333" stroke-width="0.8"/>
<line x1="193.00" y1="325.20" x2="193.00" y2="328.90" stroke="#333" stroke-width="0.8"/>
<text x="122.7" y="336.3" font-family='"Liberation Mono","DejaVu Sans Mono",monospace' font-size="6" font-weight="normal" font-style="normal" fill="#333" text-anchor="middle">25</text>
<text x="192.7" y="336.3" font-family='"Liberation Mono","DejaVu Sans Mono",monospace' font-size="6" font-weight="normal" font-style="normal" fill="#333" text-anchor="middle">50</text>
<rect x="24.90" y="237.50" width="9.10" height="45.20" fill="#fff" stroke="#333" stroke-width="0.8" rx="1"/>
<text x="31.849999999999998" y="260.1" font-family='"Liberation Sans","DejaVu Sans",sans-serif' font-size="7" font-weight="bold" font-style="normal" fill="#222" text-anchor="middle" transform="rotate(-90 31.849999999999998 260.1)" textLength="41.69999999999999" lengthAdjust="spacingAndGlyphs">Fluorescence</text>
<rect x="114.20" y="337.80" width="19.30" height="8.00" fill="#fff" stroke="#333" stroke-width="0.8"/>
<text x="123.85" y="344.2" font-family='"Liberation Sans","DejaVu Sans",sans-serif' font-size="6.8" font-weight="bold" font-style="normal" fill="#222" text-anchor="middle" textLength="16.299999999999997" lengthAdjust="spacingAndGlyphs">Cycle</text>
<text x="103" y="191.6" font-family='"Liberation Serif","DejaVu Serif",serif' font-size="13.6" font-weight="bold" font-style="normal" fill="#000" text-anchor="start" textLength="18.5" lengthAdjust="spacingAndGlyphs">J82</text>
<text x="200.2" y="208.3" font-family='"Liberation Serif","DejaVu Serif",serif' font-size="10.6" font-weight="bold" font-style="italic" fill="#b848d4" text-anchor="start" textLength="34.2" lengthAdjust="spacingAndGlyphs">COL2A1</text>
<text x="200.2" y="219.3" font-family='"Liberation Serif","DejaVu Serif",serif' font-size="10.6" font-weight="bold" font-style="italic" fill="#1838c0" text-anchor="start" textLength="25" lengthAdjust="spacingAndGlyphs">ACTB</text>
<text x="200.2" y="236.8" font-family='"Liberation Serif","DejaVu Serif",serif' font-size="10.6" font-weight="bold" font-style="italic" fill="#cc1818" text-anchor="start" textLength="46.8" lengthAdjust="spacingAndGlyphs">TNFRSF25</text>
<text x="200.2" y="246.9" font-family='"Liberation Serif","DejaVu Serif",serif' font-size="10.6" font-weight="bold" font-style="italic" fill="#a4e8f0" text-anchor="start" textLength="24" lengthAdjust="spacingAndGlyphs">TERT</text>
<text x="200.2" y="311.8" font-family='"Liberation Serif","DejaVu Serif",serif' font-size="10.6" font-weight="bold" font-style="italic" fill="#f0a448" text-anchor="start" textLength="40" lengthAdjust="spacingAndGlyphs">RASSF1A</text>
<text x="200.2" y="320" font-family='"Liberation Serif","DejaVu Serif",serif' font-size="10.6" font-weight="bold" font-style="italic" fill="#333" text-anchor="start" textLength="23" lengthAdjust="spacingAndGlyphs">BCL2</text>
<text x="200.2" y="330.5" font-family='"Liberation Serif","DejaVu Serif",serif' font-size="10.6" font-weight="bold" font-style="italic" fill="#8ce44c" text-anchor="start" textLength="32.5" lengthAdjust="spacingAndGlyphs">EDNRB</text>
<text x="0.3" y="9.1" font-family='"Liberation Sans","DejaVu Sans",sans-serif' font-size="12.2" font-weight="bold" font-style="normal" fill="#000" text-anchor="start">A</text>
<text x="-0.8" y="382.1" font-family='"Liberation Sans","DejaVu Sans",sans-serif' font-size="12.2" font-weight="bold" font-style="normal" fill="#000" text-anchor="start">B</text>
<text x="279.2" y="9.6" font-family='"Liberation Sans","DejaVu Sans",sans-serif' font-size="12.2" font-weight="bold" font-style="normal" fill="#000" text-anchor="start">C</text>
<rect x="182.50" y="377.20" width="21.30" height="11.55" fill="#ee0808" stroke="#000" stroke-width="1"/>
<text x="207" y="386.8" font-family='"Liberation Serif","DejaVu Serif",serif' font-size="11" font-weight="bold" font-style="normal" fill="#000" text-anchor="start" textLength="41.5" lengthAdjust="spacingAndGlyphs">PMR ³&#160;&#160;75</text>
<rect x="182.50" y="388.75" width="21.30" height="11.55" fill="#f8520c" stroke="#000" stroke-width="1"/>
<text x="207" y="398.35" font-family='"Liberation Serif","DejaVu Serif",serif' font-size="11" font-weight="bold" font-style="normal" fill="#000" text-anchor="start" textLength="58.5" lengthAdjust="spacingAndGlyphs">PMR 50 - 74.9</text>
<rect x="182.50" y="400.30" width="21.30" height="11.55" fill="#fbf620" stroke="#000" stroke-width="1"/>
<text x="207" y="409.90000000000003" font-family='"Liberation Serif","DejaVu Serif",serif' font-size="11" font-weight="bold" font-style="normal" fill="#000" text-anchor="start" textLength="58.5" lengthAdjust="spacingAndGlyphs">PMR 25 - 49.9</text>
<rect x="182.50" y="411.85" width="21.30" height="11.55" fill="#3aea1a" stroke="#000" stroke-width="1"/>
<text x="207" y="421.45000000000005" font-family='"Liberation Serif","DejaVu Serif",serif' font-size="11" font-weight="bold" font-style="normal" fill="#000" text-anchor="start" textLength="53.8" lengthAdjust="spacingAndGlyphs">PMR 5 - 24.9</text>
<rect x="182.50" y="423.40" width="21.30" height="11.55" fill="#1028ea" stroke="#000" stroke-width="1"/>
<text x="207" y="433.0" font-family='"Liberation Serif","DejaVu Serif",serif' font-size="11" font-weight="bold" font-style="normal" fill="#000" text-anchor="start" textLength="48.6" lengthAdjust="spacingAndGlyphs">PMR 0.1 - 5</text>
<rect x="182.50" y="434.95" width="21.30" height="11.55" fill="#b6b6b6" stroke="#000" stroke-width="1"/>
<text x="207" y="444.55" font-family='"Liberation Serif","DejaVu Serif",serif' font-size="11" font-weight="bold" font-style="normal" fill="#000" text-anchor="start" textLength="28.6" lengthAdjust="spacingAndGlyphs">PMR 0</text>
<rect x="24.50" y="454.30" width="242.24" height="186.10" fill="#fff" stroke="#000" stroke-width="1.2"/>
<rect x="66.10" y="493.25" width="16.72" height="7.75" fill="#b6b6b6" stroke="none" stroke-width="1"/>
<rect x="82.82" y="493.25" width="16.72" height="7.75" fill="#b6b6b6" stroke="none" stroke-width="1"/>
<rect x="99.54" y="493.25" width="16.72" height="7.75" fill="#b6b6b6" stroke="none" stroke-width="1"/>
<rect x="116.26" y="493.25" width="16.72" height="7.75" fill="#b6b6b6" stroke="none" stroke-width="1"/>
<rect x="132.98" y="493.25" width="16.72" height="7.75" fill="#b6b6b6" stroke="none" stroke-width="1"/>
<rect x="149.70" y="493.25" width="16.72" height="7.75" fill="#b6b6b6" stroke="none" stroke-width="1"/>
<rect x="166.42" y="493.25" width="16.72" height="7.75" fill="#b6b6b6" stroke="none" stroke-width="1"/>
<rect x="183.14" y="493.25" width="16.72" height="7.75" fill="#b6b6b6" stroke="none" stroke-width="1"/>
<rect x="199.86" y="493.25" width="16.72" height="7.75" fill="#b6b6b6" stroke="none" stroke-width="1"/>
<rect x="216.58" y="493.25" width="16.72" height="7.75" fill="#b6b6b6" stroke="none" stroke-width="1"/>
<rect x="233.30" y="493.25" width="16.72" height="7.75" fill="#b6b6b6" stroke="none" stroke-width="1"/>
<rect x="250.02" y="493.25" width="16.72" height="7.75" fill="#b6b6b6" stroke="none" stroke-width="1"/>
<text x="26" y="499.495" font-family='"Liberation Serif","DejaVu Serif",serif' font-size="6.6" font-weight="bold" font-style="normal" fill="#000" text-anchor="start">LD 419</text>
<rect x="66.10" y="501.00" width="16.72" height="7.75" fill="#fff" stroke="none" stroke-width="1"/>
<text x="74.46" y="506.46750000000003" font-family='"Liberation Serif","DejaVu Serif",serif' font-size="4.8" font-weight="bold" font-style="normal" fill="#222" text-anchor="middle">HD</text>
<rect x="82.82" y="501.00" width="16.72" height="7.75" fill="#b6b6b6" stroke="none" stroke-width="1"/>
<rect x="99.54" y="501.00" width="16.72" height="7.75" fill="#b6b6b6" stroke="none" stroke-width="1"/>
<rect x="116.26" y="501.00" width="16.72" height="7.75" fill="#b6b6b6" stroke="none" stroke-width="1"/>
<rect x="132.98" y="501.00" width="16.72" height="7.75" fill="#b6b6b6" stroke="none" stroke-width="1"/>
<rect x="149.70" y="501.00" width="16.72" height="7.75" fill="#b6b6b6" stroke="none" stroke-width="1"/>
<rect x="166.42" y="501.00" width="16.72" height="7.75" fill="#b6b6b6" stroke="none" stroke-width="1"/>
<rect x="183.14" y="501.00" width="16.72" height="7.75" fill="#b6b6b6" stroke="none" stroke-width="1"/>
<rect x="199.86" y="501.00" width="16.72" height="7.75" fill="#b6b6b6" stroke="none" stroke-width="1"/>
<rect x="216.58" y="501.00" width="16.72" height="7.75" fill="#b6b6b6" stroke="none" stroke-width="1"/>
<rect x="233.30" y="501.00" width="16.72" height="7.75" fill="#b6b6b6" stroke="none" stroke-width="1"/>
<rect x="250.02" y="501.00" width="16.72" height="7.75" fill="#b6b6b6" stroke="none" stroke-width="1"/>
<text x="26" y="507.24" font-family='"Liberation Serif","DejaVu Serif",serif' font-size="6.6" font-weight="bold" font-style="normal" fill="#000" text-anchor="start">RT 4</text>
<rect x="66.10" y="508.74" width="16.72" height="7.75" fill="#b6b6b6" stroke="none" stroke-width="1"/>
<rect x="82.82" y="508.74" width="16.72" height="7.75" fill="#b6b6b6" stroke="none" stroke-width="1"/>
<rect x="99.54" y="508.74" width="16.72" height="7.75" fill="#b6b6b6" stroke="none" stroke-width="1"/>
<rect x="116.26" y="508.74" width="16.72" height="7.75" fill="#b6b6b6" stroke="none" stroke-width="1"/>
<rect x="132.98" y="508.74" width="16.72" height="7.75" fill="#b6b6b6" stroke="none" stroke-width="1"/>
<rect x="149.70" y="508.74" width="16.72" height="7.75" fill="#b6b6b6" stroke="none" stroke-width="1"/>
<rect x="166.42" y="508.74" width="16.72" height="7.75" fill="#b6b6b6" stroke="none" stroke-width="1"/>
<rect x="183.14" y="508.74" width="16.72" height="7.75" fill="#b6b6b6" stroke="none" stroke-width="1"/>
<rect x="199.86" y="508.74" width="16.72" height="7.75" fill="#b6b6b6" stroke="none" stroke-width="1"/>
<rect x="216.58" y="508.74" width="16.72" height="7.75" fill="#fbf620" stroke="none" stroke-width="1"/>
<rect x="233.30" y="508.74" width="16.72" height="7.75" fill="#b6b6b6" stroke="none" stroke-width="1"/>
<rect x="250.02" y="508.74" width="16.72" height="7.75" fill="#b6b6b6" stroke="none" stroke-width="1"/>
<text x="26" y="514.985" font-family='"Liberation Serif","DejaVu Serif",serif' font-size="6.6" font-weight="bold" font-style="normal" fill="#000" text-anchor="start">LD 627</text>
<rect x="66.10" y="516.49" width="16.72" height="7.75" fill="#b6b6b6" stroke="none" stroke-width="1"/>
<rect x="82.82" y="516.49" width="16.72" height="7.75" fill="#b6b6b6" stroke="none" stroke-width="1"/>
<rect x="99.54" y="516.49" width="16.72" height="7.75" fill="#b6b6b6" stroke="none" stroke-width="1"/>
<rect x="116.26" y="516.49" width="16.72" height="7.75" fill="#b6b6b6" stroke="none" stroke-width="1"/>
<rect x="132.98" y="516.49" width="16.72" height="7.75" fill="#b6b6b6" stroke="none" stroke-width="1"/>
<rect x="149.70" y="516.49" width="16.72" height="7.75" fill="#b6b6b6" stroke="none" stroke-width="1"/>
<rect x="166.42" y="516.49" width="16.72" height="7.75" fill="#b6b6b6" stroke="none" stroke-width="1"/>
<rect x="183.14" y="516.49" width="16.72" height="7.75" fill="#fbf620" stroke="none" stroke-width="1"/>
<rect x="199.86" y="516.49" width="16.72" height="7.75" fill="#b6b6b6" stroke="none" stroke-width="1"/>
<rect x="216.58" y="516.49" width="16.72" height="7.75" fill="#b6b6b6" stroke="none" stroke-width="1"/>
<rect x="233.30" y="516.49" width="16.72" height="7.75" fill="#b6b6b6" stroke="none" stroke-width="1"/>
<rect x="250.02" y="516.49" width="16.72" height="7.75" fill="#ee0808" stroke="none" stroke-width="1"/>
<text x="26" y="522.73" font-family='"Liberation Serif","DejaVu Serif",serif' font-size="6.6" font-weight="bold" font-style="normal" fill="#000" text-anchor="start">J 82</text>
<rect x="66.10" y="524.23" width="16.72" height="7.75" fill="#b6b6b6" stroke="none" stroke-width="1"/>
<rect x="82.82" y="524.23" width="16.72" height="7.75" fill="#b6b6b6" stroke="none" stroke-width="1"/>
<rect x="99.54" y="524.23" width="16.72" height="7.75" fill="#b6b6b6" stroke="none" stroke-width="1"/>
<rect x="116.26" y="524.23" width="16.72" height="7.75" fill="#b6b6b6" stroke="none" stroke-width="1"/>
<rect x="132.98" y="524.23" width="16.72" height="7.75" fill="#b6b6b6" stroke="none" stroke-width="1"/>
<rect x="149.70" y="524.23" width="16.72" height="7.75" fill="#b6b6b6" stroke="none" stroke-width="1"/>
<rect x="166.42" y="524.23" width="16.72" height="7.75" fill="#b6b6b6" stroke="none" stroke-width="1"/>
<rect x="183.14" y="524.23" width="16.72" height="7.75" fill="#b6b6b6" stroke="none" stroke-width="1"/>
<rect x="199.86" y="524.23" width="16.72" height="7.75" fill="#b6b6b6" stroke="none" stroke-width="1"/>
<rect x="216.58" y="524.23" width="16.72" height="7.75" fill="#ee0808" stroke="none" stroke-width="1"/>
<rect x="233.30" y="524.23" width="16.72" height="7.75" fill="#ee0808" stroke="none" stroke-width="1"/>
<rect x="250.02" y="524.23" width="16.72" height="7.75" fill="#ee0808" stroke="none" stroke-width="1"/>
<text x="26" y="530.475" font-family='"Liberation Serif","DejaVu Serif",serif' font-size="6.6" font-weight="bold" font-style="normal" fill="#000" text-anchor="start">LD 137</text>
<rect x="66.10" y="531.98" width="16.72" height="7.75" fill="#b6b6b6" stroke="none" stroke-width="1"/>
<rect x="82.82" y="531.98" width="16.72" height="7.75" fill="#b6b6b6" stroke="none" stroke-width="1"/>
<rect x="99.54" y="531.98" width="16.72" height="7.75" fill="#b6b6b6" stroke="none" stroke-width="1"/>
<rect x="116.26" y="531.98" width="16.72" height="7.75" fill="#b6b6b6" stroke="none" stroke-width="1"/>
<rect x="132.98" y="531.98" width="16.72" height="7.75" fill="#b6b6b6" stroke="none" stroke-width="1"/>
<rect x="149.70" y="531.98" width="16.72" height="7.75" fill="#b6b6b6" stroke="none" stroke-width="1"/>
<rect x="166.42" y="531.98" width="16.72" height="7.75" fill="#b6b6b6" stroke="none" stroke-width="1"/>
<rect x="183.14" y="531.98" width="16.72" height="7.75" fill="#ee0808" stroke="none" stroke-width="1"/>
<rect x="199.86" y="531.98" width="16.72" height="7.75" fill="#b6b6b6" stroke="none" stroke-width="1"/>
<rect x="216.58" y="531.98" width="16.72" height="7.75" fill="#3aea1a" stroke="none" stroke-width="1"/>
<rect x="233.30" y="531.98" width="16.72" height="7.75" fill="#fbf620" stroke="none" stroke-width="1"/>
<rect x="250.02" y="531.98" width="16.72" height="7.75" fill="#ee0808" stroke="none" stroke-width="1"/>
<text x="26" y="538.22" font-family='"Liberation Serif","DejaVu Serif",serif' font-size="6.6" font-weight="bold" font-style="normal" fill="#000" text-anchor="start">HT 9</text>
<rect x="66.10" y="539.72" width="16.72" height="7.75" fill="#fff" stroke="none" stroke-width="1"/>
<text x="74.46" y="545.1925" font-family='"Liberation Serif","DejaVu Serif",serif' font-size="4.8" font-weight="bold" font-style="normal" fill="#222" text-anchor="middle">HD</text>
<rect x="82.82" y="539.72" width="16.72" height="7.75" fill="#b6b6b6" stroke="none" stroke-width="1"/>
<rect x="99.54" y="539.72" width="16.72" height="7.75" fill="#b6b6b6" stroke="none" stroke-width="1"/>
<rect x="116.26" y="539.72" width="16.72" height="7.75" fill="#b6b6b6" stroke="none" stroke-width="1"/>
<rect x="132.98" y="539.72" width="16.72" height="7.75" fill="#b6b6b6" stroke="none" stroke-width="1"/>
<rect x="149.70" y="539.72" width="16.72" height="7.75" fill="#b6b6b6" stroke="none" stroke-width="1"/>
<rect x="166.42" y="539.72" width="16.72" height="7.75" fill="#b6b6b6" stroke="none" stroke-width="1"/>
<rect x="183.14" y="539.72" width="16.72" height="7.75" fill="#ee0808" stroke="none" stroke-width="1"/>
<rect x="199.86" y="539.72" width="16.72" height="7.75" fill="#b6b6b6" stroke="none" stroke-width="1"/>
<rect x="216.58" y="539.72" width="16.72" height="7.75" fill="#f8520c" stroke="none" stroke-width="1"/>
<rect x="233.30" y="539.72" width="16.72" height="7.75" fill="#3aea1a" stroke="none" stroke-width="1"/>
<rect x="250.02" y="539.72" width="16.72" height="7.75" fill="#fbf620" stroke="none" stroke-width="1"/>
<text x="26" y="545.965" font-family='"Liberation Serif","DejaVu Serif",serif' font-size="6.6" font-weight="bold" font-style="normal" fill="#000" text-anchor="start">LD 611</text>
<rect x="66.10" y="547.47" width="16.72" height="7.75" fill="#fff" stroke="none" stroke-width="1"/>
<text x="74.46" y="552.9375" font-family='"Liberation Serif","DejaVu Serif",serif' font-size="4.8" font-weight="bold" font-style="normal" fill="#222" text-anchor="middle">HD</text>
<rect x="82.82" y="547.47" width="16.72" height="7.75" fill="#b6b6b6" stroke="none" stroke-width="1"/>
<rect x="99.54" y="547.47" width="16.72" height="7.75" fill="#b6b6b6" stroke="none" stroke-width="1"/>
<rect x="116.26" y="547.47" width="16.72" height="7.75" fill="#b6b6b6" stroke="none" stroke-width="1"/>
<rect x="132.98" y="547.47" width="16.72" height="7.75" fill="#b6b6b6" stroke="none" stroke-width="1"/>
<rect x="149.70" y="547.47" width="16.72" height="7.75" fill="#b6b6b6" stroke="none" stroke-width="1"/>
<rect x="166.42" y="547.47" width="16.72" height="7.75" fill="#b6b6b6" stroke="none" stroke-width="1"/>
<rect x="183.14" y="547.47" width="16.72" height="7.75" fill="#ee0808" stroke="none" stroke-width="1"/>
<rect x="199.86" y="547.47" width="16.72" height="7.75" fill="#fbf620" stroke="none" stroke-width="1"/>
<rect x="216.58" y="547.47" width="16.72" height="7.75" fill="#3aea1a" stroke="none" stroke-width="1"/>
<rect x="233.30" y="547.47" width="16.72" height="7.75" fill="#3aea1a" stroke="none" stroke-width="1"/>
<rect x="250.02" y="547.47" width="16.72" height="7.75" fill="#f8520c" stroke="none" stroke-width="1"/>
<text x="26" y="553.71" font-family='"Liberation Serif","DejaVu Serif",serif' font-size="6.6" font-weight="bold" font-style="normal" fill="#000" text-anchor="start">LD 71</text>
<rect x="66.10" y="555.21" width="16.72" height="7.75" fill="#b6b6b6" stroke="none" stroke-width="1"/>
<rect x="82.82" y="555.21" width="16.72" height="7.75" fill="#b6b6b6" stroke="none" stroke-width="1"/>
<rect x="99.54" y="555.21" width="16.72" height="7.75" fill="#b6b6b6" stroke="none" stroke-width="1"/>
<rect x="116.26" y="555.21" width="16.72" height="7.75" fill="#b6b6b6" stroke="none" stroke-width="1"/>
<rect x="132.98" y="555.21" width="16.72" height="7.75" fill="#b6b6b6" stroke="none" stroke-width="1"/>
<rect x="149.70" y="555.21" width="16.72" height="7.75" fill="#b6b6b6" stroke="none" stroke-width="1"/>
<rect x="166.42" y="555.21" width="16.72" height="7.75" fill="#b6b6b6" stroke="none" stroke-width="1"/>
<rect x="183.14" y="555.21" width="16.72" height="7.75" fill="#fbf620" stroke="none" stroke-width="1"/>
<rect x="199.86" y="555.21" width="16.72" height="7.75" fill="#fbf620" stroke="none" stroke-width="1"/>
<rect x="216.58" y="555.21" width="16.72" height="7.75" fill="#3aea1a" stroke="none" stroke-width="1"/>
<rect x="233.30" y="555.21" width="16.72" height="7.75" fill="#fbf620" stroke="none" stroke-width="1"/>
<rect x="250.02" y="555.21" width="16.72" height="7.75" fill="#ee0808" stroke="none" stroke-width="1"/>
<text x="26" y="561.455" font-family='"Liberation Serif","DejaVu Serif",serif' font-size="6.6" font-weight="bold" font-style="normal" fill="#000" text-anchor="start">LD 700</text>
<rect x="66.10" y="562.96" width="16.72" height="7.75" fill="#b6b6b6" stroke="none" stroke-width="1"/>
<rect x="82.82" y="562.96" width="16.72" height="7.75" fill="#b6b6b6" stroke="none" stroke-width="1"/>
<rect x="99.54" y="562.96" width="16.72" height="7.75" fill="#b6b6b6" stroke="none" stroke-width="1"/>
<rect x="116.26" y="562.96" width="16.72" height="7.75" fill="#b6b6b6" stroke="none" stroke-width="1"/>
<rect x="132.98" y="562.96" width="16.72" height="7.75" fill="#b6b6b6" stroke="none" stroke-width="1"/>
<rect x="149.70" y="562.96" width="16.72" height="7.75" fill="#b6b6b6" stroke="none" stroke-width="1"/>
<rect x="166.42" y="562.96" width="16.72" height="7.75" fill="#b6b6b6" stroke="none" stroke-width="1"/>
<rect x="183.14" y="562.96" width="16.72" height="7.75" fill="#ee0808" stroke="none" stroke-width="1"/>
<rect x="199.86" y="562.96" width="16.72" height="7.75" fill="#fbf620" stroke="none" stroke-width="1"/>
<rect x="216.58" y="562.96" width="16.72" height="7.75" fill="#fbf620" stroke="none" stroke-width="1"/>
<rect x="233.30" y="562.96" width="16.72" height="7.75" fill="#ee0808" stroke="none" stroke-width="1"/>
<rect x="250.02" y="562.96" width="16.72" height="7.75" fill="#fbf620" stroke="none" stroke-width="1"/>
<text x="26" y="569.2" font-family='"Liberation Serif","DejaVu Serif",serif' font-size="6.6" font-weight="bold" font-style="normal" fill="#000" text-anchor="start">LD 660</text>
<rect x="66.10" y="570.70" width="16.72" height="7.75" fill="#b6b6b6" stroke="none" stroke-width="1"/>
<rect x="82.82" y="570.70" width="16.72" height="7.75" fill="#b6b6b6" stroke="none" stroke-width="1"/>
<rect x="99.54" y="570.70" width="16.72" height="7.75" fill="#b6b6b6" stroke="none" stroke-width="1"/>
<rect x="116.26" y="570.70" width="16.72" height="7.75" fill="#b6b6b6" stroke="none" stroke-width="1"/>
<rect x="132.98" y="570.70" width="16.72" height="7.75" fill="#b6b6b6" stroke="none" stroke-width="1"/>
<rect x="149.70" y="570.70" width="16.72" height="7.75" fill="#fbf620" stroke="none" stroke-width="1"/>
<rect x="166.42" y="570.70" width="16.72" height="7.75" fill="#b6b6b6" stroke="none" stroke-width="1"/>
<rect x="183.14" y="570.70" width="16.72" height="7.75" fill="#b6b6b6" stroke="none" stroke-width="1"/>
<rect x="199.86" y="570.70" width="16.72" height="7.75" fill="#b6b6b6" stroke="none" stroke-width="1"/>
<rect x="216.58" y="570.70" width="16.72" height="7.75" fill="#ee0808" stroke="none" stroke-width="1"/>
<rect x="233.30" y="570.70" width="16.72" height="7.75" fill="#ee0808" stroke="none" stroke-width="1"/>
<rect x="250.02" y="570.70" width="16.72" height="7.75" fill="#ee0808" stroke="none" stroke-width="1"/>
<text x="26" y="576.945" font-family='"Liberation Serif","DejaVu Serif",serif' font-size="6.6" font-weight="bold" font-style="normal" fill="#000" text-anchor="start">TCC SUPP</text>
<rect x="66.10" y="578.45" width="16.72" height="7.75" fill="#b6b6b6" stroke="none" stroke-width="1"/>
<rect x="82.82" y="578.45" width="16.72" height="7.75" fill="#b6b6b6" stroke="none" stroke-width="1"/>
<rect x="99.54" y="578.45" width="16.72" height="7.75" fill="#b6b6b6" stroke="none" stroke-width="1"/>
<rect x="116.26" y="578.45" width="16.72" height="7.75" fill="#b6b6b6" stroke="none" stroke-width="1"/>
<rect x="132.98" y="578.45" width="16.72" height="7.75" fill="#b6b6b6" stroke="none" stroke-width="1"/>
<rect x="149.70" y="578.45" width="16.72" height="7.75" fill="#1028ea" stroke="none" stroke-width="1"/>
<rect x="166.42" y="578.45" width="16.72" height="7.75" fill="#b6b6b6" stroke="none" stroke-width="1"/>
<rect x="183.14" y="578.45" width="16.72" height="7.75" fill="#ee0808" stroke="none" stroke-width="1"/>
<rect x="199.86" y="578.45" width="16.72" height="7.75" fill="#b6b6b6" stroke="none" stroke-width="1"/>
<rect x="216.58" y="578.45" width="16.72" height="7.75" fill="#f8520c" stroke="none" stroke-width="1"/>
<rect x="233.30" y="578.45" width="16.72" height="7.75" fill="#ee0808" stroke="none" stroke-width="1"/>
<rect x="250.02" y="578.45" width="16.72" height="7.75" fill="#ee0808" stroke="none" stroke-width="1"/>
<text x="26" y="584.69" font-family='"Liberation Serif","DejaVu Serif",serif' font-size="6.6" font-weight="bold" font-style="normal" fill="#000" text-anchor="start">LD 636</text>
<rect x="66.10" y="586.19" width="16.72" height="7.75" fill="#b6b6b6" stroke="none" stroke-width="1"/>
<rect x="82.82" y="586.19" width="16.72" height="7.75" fill="#b6b6b6" stroke="none" stroke-width="1"/>
<rect x="99.54" y="586.19" width="16.72" height="7.75" fill="#b6b6b6" stroke="none" stroke-width="1"/>
<rect x="116.26" y="586.19" width="16.72" height="7.75" fill="#b6b6b6" stroke="none" stroke-width="1"/>
<rect x="132.98" y="586.19" width="16.72" height="7.75" fill="#b6b6b6" stroke="none" stroke-width="1"/>
<rect x="149.70" y="586.19" width="16.72" height="7.75" fill="#1028ea" stroke="none" stroke-width="1"/>
<rect x="166.42" y="586.19" width="16.72" height="7.75" fill="#b6b6b6" stroke="none" stroke-width="1"/>
<rect x="183.14" y="586.19" width="16.72" height="7.75" fill="#1028ea" stroke="none" stroke-width="1"/>
<rect x="199.86" y="586.19" width="16.72" height="7.75" fill="#fbf620" stroke="none" stroke-width="1"/>
<rect x="216.58" y="586.19" width="16.72" height="7.75" fill="#ee0808" stroke="none" stroke-width="1"/>
<rect x="233.30" y="586.19" width="16.72" height="7.75" fill="#ee0808" stroke="none" stroke-width="1"/>
<rect x="250.02" y="586.19" width="16.72" height="7.75" fill="#ee0808" stroke="none" stroke-width="1"/>
<text x="26" y="592.4350000000001" font-family='"Liberation Serif","DejaVu Serif",serif' font-size="6.6" font-weight="bold" font-style="normal" fill="#000" text-anchor="start">HT 1376</text>
<rect x="66.10" y="593.93" width="16.72" height="7.75" fill="#fff" stroke="none" stroke-width="1"/>
<text x="74.46" y="599.4074999999999" font-family='"Liberation Serif","DejaVu Serif",serif' font-size="4.8" font-weight="bold" font-style="normal" fill="#222" text-anchor="middle">HD</text>
<rect x="82.82" y="593.93" width="16.72" height="7.75" fill="#b6b6b6" stroke="none" stroke-width="1"/>
<rect x="99.54" y="593.93" width="16.72" height="7.75" fill="#b6b6b6" stroke="none" stroke-width="1"/>
<rect x="116.26" y="593.93" width="16.72" height="7.75" fill="#b6b6b6" stroke="none" stroke-width="1"/>
<rect x="132.98" y="593.93" width="16.72" height="7.75" fill="#b6b6b6" stroke="none" stroke-width="1"/>
<rect x="149.70" y="593.93" width="16.72" height="7.75" fill="#b6b6b6" stroke="none" stroke-width="1"/>
<rect x="166.42" y="593.93" width="16.72" height="7.75" fill="#b6b6b6" stroke="none" stroke-width="1"/>
<rect x="183.14" y="593.93" width="16.72" height="7.75" fill="#1028ea" stroke="none" stroke-width="1"/>
<rect x="199.86" y="593.93" width="16.72" height="7.75" fill="#ee0808" stroke="none" stroke-width="1"/>
<rect x="216.58" y="593.93" width="16.72" height="7.75" fill="#3aea1a" stroke="none" stroke-width="1"/>
<rect x="233.30" y="593.93" width="16.72" height="7.75" fill="#b6b6b6" stroke="none" stroke-width="1"/>
<rect x="250.02" y="593.93" width="16.72" height="7.75" fill="#3aea1a" stroke="none" stroke-width="1"/>
<text x="26" y="600.18" font-family='"Liberation Serif","DejaVu Serif",serif' font-size="6.6" font-weight="bold" font-style="normal" fill="#000" text-anchor="start">LD 605</text>
<rect x="66.10" y="601.68" width="16.72" height="7.75" fill="#b6b6b6" stroke="none" stroke-width="1"/>
<rect x="82.82" y="601.68" width="16.72" height="7.75" fill="#b6b6b6" stroke="none" stroke-width="1"/>
<rect x="99.54" y="601.68" width="16.72" height="7.75" fill="#b6b6b6" stroke="none" stroke-width="1"/>
<rect x="116.26" y="601.68" width="16.72" height="7.75" fill="#b6b6b6" stroke="none" stroke-width="1"/>
<rect x="132.98" y="601.68" width="16.72" height="7.75" fill="#b6b6b6" stroke="none" stroke-width="1"/>
<rect x="149.70" y="601.68" width="16.72" height="7.75" fill="#3aea1a" stroke="none" stroke-width="1"/>
<rect x="166.42" y="601.68" width="16.72" height="7.75" fill="#b6b6b6" stroke="none" stroke-width="1"/>
<rect x="183.14" y="601.68" width="16.72" height="7.75" fill="#ee0808" stroke="none" stroke-width="1"/>
<rect x="199.86" y="601.68" width="16.72" height="7.75" fill="#b6b6b6" stroke="none" stroke-width="1"/>
<rect x="216.58" y="601.68" width="16.72" height="7.75" fill="#b6b6b6" stroke="none" stroke-width="1"/>
<rect x="233.30" y="601.68" width="16.72" height="7.75" fill="#ee0808" stroke="none" stroke-width="1"/>
<rect x="250.02" y="601.68" width="16.72" height="7.75" fill="#3aea1a" stroke="none" stroke-width="1"/>
<text x="26" y="607.9250000000001" font-family='"Liberation Serif","DejaVu Serif",serif' font-size="6.6" font-weight="bold" font-style="normal" fill="#000" text-anchor="start">LD 600</text>
<rect x="66.10" y="609.42" width="16.72" height="7.75" fill="#b6b6b6" stroke="none" stroke-width="1"/>
<rect x="82.82" y="609.42" width="16.72" height="7.75" fill="#b6b6b6" stroke="none" stroke-width="1"/>
<rect x="99.54" y="609.42" width="16.72" height="7.75" fill="#b6b6b6" stroke="none" stroke-width="1"/>
<rect x="116.26" y="609.42" width="16.72" height="7.75" fill="#b6b6b6" stroke="none" stroke-width="1"/>
<rect x="132.98" y="609.42" width="16.72" height="7.75" fill="#b6b6b6" stroke="none" stroke-width="1"/>
<rect x="149.70" y="609.42" width="16.72" height="7.75" fill="#b6b6b6" stroke="none" stroke-width="1"/>
<rect x="166.42" y="609.42" width="16.72" height="7.75" fill="#b6b6b6" stroke="none" stroke-width="1"/>
<rect x="183.14" y="609.42" width="16.72" height="7.75" fill="#ee0808" stroke="none" stroke-width="1"/>
<rect x="199.86" y="609.42" width="16.72" height="7.75" fill="#f8520c" stroke="none" stroke-width="1"/>
<rect x="216.58" y="609.42" width="16.72" height="7.75" fill="#ee0808" stroke="none" stroke-width="1"/>
<rect x="233.30" y="609.42" width="16.72" height="7.75" fill="#ee0808" stroke="none" stroke-width="1"/>
<rect x="250.02" y="609.42" width="16.72" height="7.75" fill="#ee0808" stroke="none" stroke-width="1"/>
<text x="26" y="615.67" font-family='"Liberation Serif","DejaVu Serif",serif' font-size="6.6" font-weight="bold" font-style="normal" fill="#000" text-anchor="start">T24</text>
<rect x="66.10" y="617.17" width="16.72" height="7.75" fill="#fff" stroke="none" stroke-width="1"/>
<text x="74.46" y="622.6424999999999" font-family='"Liberation Serif","DejaVu Serif",serif' font-size="4.8" font-weight="bold" font-style="normal" fill="#222" text-anchor="middle">HD</text>
<rect x="82.82" y="617.17" width="16.72" height="7.75" fill="#b6b6b6" stroke="none" stroke-width="1"/>
<rect x="99.54" y="617.17" width="16.72" height="7.75" fill="#b6b6b6" stroke="none" stroke-width="1"/>
<rect x="116.26" y="617.17" width="16.72" height="7.75" fill="#b6b6b6" stroke="none" stroke-width="1"/>
<rect x="132.98" y="617.17" width="16.72" height="7.75" fill="#b6b6b6" stroke="none" stroke-width="1"/>
<rect x="149.70" y="617.17" width="16.72" height="7.75" fill="#b6b6b6" stroke="none" stroke-width="1"/>
<rect x="166.42" y="617.17" width="16.72" height="7.75" fill="#ee0808" stroke="none" stroke-width="1"/>
<rect x="183.14" y="617.17" width="16.72" height="7.75" fill="#f8520c" stroke="none" stroke-width="1"/>
<rect x="199.86" y="617.17" width="16.72" height="7.75" fill="#1028ea" stroke="none" stroke-width="1"/>
<rect x="216.58" y="617.17" width="16.72" height="7.75" fill="#ee0808" stroke="none" stroke-width="1"/>
<rect x="233.30" y="617.17" width="16.72" height="7.75" fill="#b6b6b6" stroke="none" stroke-width="1"/>
<rect x="250.02" y="617.17" width="16.72" height="7.75" fill="#b6b6b6" stroke="none" stroke-width="1"/>
<text x="26" y="623.415" font-family='"Liberation Serif","DejaVu Serif",serif' font-size="6.6" font-weight="bold" font-style="normal" fill="#000" text-anchor="start">SCaBER</text>
<rect x="66.10" y="624.91" width="16.72" height="7.75" fill="#b6b6b6" stroke="none" stroke-width="1"/>
<rect x="82.82" y="624.91" width="16.72" height="7.75" fill="#b6b6b6" stroke="none" stroke-width="1"/>
<rect x="99.54" y="624.91" width="16.72" height="7.75" fill="#b6b6b6" stroke="none" stroke-width="1"/>
<rect x="116.26" y="624.91" width="16.72" height="7.75" fill="#b6b6b6" stroke="none" stroke-width="1"/>
<rect x="132.98" y="624.91" width="16.72" height="7.75" fill="#b6b6b6" stroke="none" stroke-width="1"/>
<rect x="149.70" y="624.91" width="16.72" height="7.75" fill="#1028ea" stroke="none" stroke-width="1"/>
<rect x="166.42" y="624.91" width="16.72" height="7.75" fill="#b6b6b6" stroke="none" stroke-width="1"/>
<rect x="183.14" y="624.91" width="16.72" height="7.75" fill="#3aea1a" stroke="none" stroke-width="1"/>
<rect x="199.86" y="624.91" width="16.72" height="7.75" fill="#fbf620" stroke="none" stroke-width="1"/>
<rect x="216.58" y="624.91" width="16.72" height="7.75" fill="#ee0808" stroke="none" stroke-width="1"/>
<rect x="233.30" y="624.91" width="16.72" height="7.75" fill="#ee0808" stroke="none" stroke-width="1"/>
<rect x="250.02" y="624.91" width="16.72" height="7.75" fill="#1028ea" stroke="none" stroke-width="1"/>
<text x="26" y="631.16" font-family='"Liberation Serif","DejaVu Serif",serif' font-size="6.6" font-weight="bold" font-style="normal" fill="#000" text-anchor="start">LD 692</text>
<rect x="66.10" y="632.66" width="16.72" height="7.75" fill="#fff" stroke="none" stroke-width="1"/>
<text x="74.46" y="638.1324999999999" font-family='"Liberation Serif","DejaVu Serif",serif' font-size="4.8" font-weight="bold" font-style="normal" fill="#222" text-anchor="middle">HD</text>
<rect x="82.82" y="632.66" width="16.72" height="7.75" fill="#b6b6b6" stroke="none" stroke-width="1"/>
<rect x="99.54" y="632.66" width="16.72" height="7.75" fill="#b6b6b6" stroke="none" stroke-width="1"/>
<rect x="116.26" y="632.66" width="16.72" height="7.75" fill="#fbf620" stroke="none" stroke-width="1"/>
<rect x="132.98" y="632.66" width="16.72" height="7.75" fill="#b6b6b6" stroke="none" stroke-width="1"/>
<rect x="149.70" y="632.66" width="16.72" height="7.75" fill="#ee0808" stroke="none" stroke-width="1"/>
<rect x="166.42" y="632.66" width="16.72" height="7.75" fill="#1028ea" stroke="none" stroke-width="1"/>
<rect x="183.14" y="632.66" width="16.72" height="7.75" fill="#fbf620" stroke="none" stroke-width="1"/>
<rect x="199.86" y="632.66" width="16.72" height="7.75" fill="#f8520c" stroke="none" stroke-width="1"/>
<rect x="216.58" y="632.66" width="16.72" height="7.75" fill="#ee0808" stroke="none" stroke-width="1"/>
<rect x="233.30" y="632.66" width="16.72" height="7.75" fill="#ee0808" stroke="none" stroke-width="1"/>
<rect x="250.02" y="632.66" width="16.72" height="7.75" fill="#3aea1a" stroke="none" stroke-width="1"/>
<text x="26" y="638.905" font-family='"Liberation Serif","DejaVu Serif",serif' font-size="6.6" font-weight="bold" font-style="normal" fill="#000" text-anchor="start">UM-UC-3</text>
<line x1="24.50" y1="493.25" x2="266.74" y2="493.25" stroke="#000" stroke-width="1"/>
<line x1="24.50" y1="501.00" x2="266.74" y2="501.00" stroke="#000" stroke-width="1"/>
<line x1="24.50" y1="508.74" x2="266.74" y2="508.74" stroke="#000" stroke-width="1"/>
<line x1="24.50" y1="516.49" x2="266.74" y2="516.49" stroke="#000" stroke-width="1"/>
<line x1="24.50" y1="524.23" x2="266.74" y2="524.23" stroke="#000" stroke-width="1"/>
<line x1="24.50" y1="531.98" x2="266.74" y2="531.98" stroke="#000" stroke-width="1"/>
<line x1="24.50" y1="539.72" x2="266.74" y2="539.72" stroke="#000" stroke-width="1"/>
<line x1="24.50" y1="547.47" x2="266.74" y2="547.47" stroke="#000" stroke-width="1"/>
<line x1="24.50" y1="555.21" x2="266.74" y2="555.21" stroke="#000" stroke-width="1"/>
<line x1="24.50" y1="562.96" x2="266.74" y2="562.96" stroke="#000" stroke-width="1"/>
<line x1="24.50" y1="570.70" x2="266.74" y2="570.70" stroke="#000" stroke-width="1"/>
<line x1="24.50" y1="578.45" x2="266.74" y2="578.45" stroke="#000" stroke-width="1"/>
<line x1="24.50" y1="586.19" x2="266.74" y2="586.19" stroke="#000" stroke-width="1"/>
<line x1="24.50" y1="593.93" x2="266.74" y2="593.93" stroke="#000" stroke-width="1"/>
<line x1="24.50" y1="601.68" x2="266.74" y2="601.68" stroke="#000" stroke-width="1"/>
<line x1="24.50" y1="609.42" x2="266.74" y2="609.42" stroke="#000" stroke-width="1"/>
<line x1="24.50" y1="617.17" x2="266.74" y2="617.17" stroke="#000" stroke-width="1"/>
<line x1="24.50" y1="624.91" x2="266.74" y2="624.91" stroke="#000" stroke-width="1"/>
<line x1="24.50" y1="632.66" x2="266.74" y2="632.66" stroke="#000" stroke-width="1"/>
<line x1="24.50" y1="640.40" x2="266.74" y2="640.40" stroke="#000" stroke-width="1"/>
<line x1="66.10" y1="454.30" x2="66.10" y2="640.40" stroke="#000" stroke-width="1"/>
<line x1="82.82" y1="454.30" x2="82.82" y2="640.40" stroke="#000" stroke-width="1"/>
<line x1="99.54" y1="454.30" x2="99.54" y2="640.40" stroke="#000" stroke-width="1"/>
<line x1="116.26" y1="454.30" x2="116.26" y2="640.40" stroke="#000" stroke-width="1"/>
<line x1="132.98" y1="454.30" x2="132.98" y2="640.40" stroke="#000" stroke-width="1"/>
<line x1="149.70" y1="454.30" x2="149.70" y2="640.40" stroke="#000" stroke-width="1"/>
<line x1="166.42" y1="454.30" x2="166.42" y2="640.40" stroke="#000" stroke-width="1"/>
<line x1="183.14" y1="454.30" x2="183.14" y2="640.40" stroke="#000" stroke-width="1"/>
<line x1="199.86" y1="454.30" x2="199.86" y2="640.40" stroke="#000" stroke-width="1"/>
<line x1="216.58" y1="454.30" x2="216.58" y2="640.40" stroke="#000" stroke-width="1"/>
<line x1="233.30" y1="454.30" x2="233.30" y2="640.40" stroke="#000" stroke-width="1"/>
<line x1="250.02" y1="454.30" x2="250.02" y2="640.40" stroke="#000" stroke-width="1"/>
<line x1="266.74" y1="454.30" x2="266.74" y2="640.40" stroke="#000" stroke-width="1"/>
<text x="26.2" y="491" font-family='"Liberation Serif","DejaVu Serif",serif' font-size="8" font-weight="bold" font-style="normal" fill="#000" text-anchor="start" textLength="30" lengthAdjust="spacingAndGlyphs">Cell Line</text>
<text x="76.66" y="490.4" font-family='"Liberation Serif","DejaVu Serif",serif' font-size="6.6" font-weight="bold" font-style="italic" fill="#000" text-anchor="start" transform="rotate(-90 76.66 490.4)" textLength="10" lengthAdjust="spacingAndGlyphs">ARF</text>
<text x="93.38" y="490.4" font-family='"Liberation Serif","DejaVu Serif",serif' font-size="6.6" font-weight="bold" font-style="italic" fill="#000" text-anchor="start" transform="rotate(-90 93.38 490.4)" textLength="18" lengthAdjust="spacingAndGlyphs">FADD</text>
<text x="110.1" y="490.4" font-family='"Liberation Serif","DejaVu Serif",serif' font-size="6.6" font-weight="bold" font-style="italic" fill="#000" text-anchor="start" transform="rotate(-90 110.1 490.4)" textLength="31.7" lengthAdjust="spacingAndGlyphs">TNFRSF21</text>
<text x="126.82" y="490.4" font-family='"Liberation Serif","DejaVu Serif",serif' font-size="6.6" font-weight="bold" font-style="italic" fill="#000" text-anchor="start" transform="rotate(-90 126.82 490.4)" textLength="18.8" lengthAdjust="spacingAndGlyphs">LITAF</text>
<text x="143.53999999999996" y="490.4" font-family='"Liberation Serif","DejaVu Serif",serif' font-size="6.6" font-weight="bold" font-style="italic" fill="#000" text-anchor="start" transform="rotate(-90 143.53999999999996 490.4)" textLength="13" lengthAdjust="spacingAndGlyphs">BAX</text>
<text x="160.26" y="490.4" font-family='"Liberation Serif","DejaVu Serif",serif' font-size="6.6" font-weight="bold" font-style="italic" fill="#000" text-anchor="start" transform="rotate(-90 160.26 490.4)" textLength="18.8" lengthAdjust="spacingAndGlyphs">TMS-1</text>
<text x="176.97999999999996" y="490.4" font-family='"Liberation Serif","DejaVu Serif",serif' font-size="6.6" font-weight="bold" font-style="italic" fill="#000" text-anchor="start" transform="rotate(-90 176.97999999999996 490.4)" textLength="18" lengthAdjust="spacingAndGlyphs">DAPK</text>
<text x="193.7" y="490.4" font-family='"Liberation Serif","DejaVu Serif",serif' font-size="6.6" font-weight="bold" font-style="italic" fill="#000" text-anchor="start" transform="rotate(-90 193.7 490.4)" textLength="16" lengthAdjust="spacingAndGlyphs">TERT</text>
<text x="210.41999999999996" y="490.4" font-family='"Liberation Serif","DejaVu Serif",serif' font-size="6.6" font-weight="bold" font-style="italic" fill="#000" text-anchor="start" transform="rotate(-90 210.41999999999996 490.4)" textLength="16.5" lengthAdjust="spacingAndGlyphs">BCL-2</text>
<text x="227.14" y="490.4" font-family='"Liberation Serif","DejaVu Serif",serif' font-size="6.6" font-weight="bold" font-style="italic" fill="#000" text-anchor="start" transform="rotate(-90 227.14 490.4)" textLength="20.8" lengthAdjust="spacingAndGlyphs">EDNRB</text>
<text x="243.85999999999996" y="490.4" font-family='"Liberation Serif","DejaVu Serif",serif' font-size="6.6" font-weight="bold" font-style="italic" fill="#000" text-anchor="start" transform="rotate(-90 243.85999999999996 490.4)" textLength="25.4" lengthAdjust="spacingAndGlyphs">RASSF1A</text>
<text x="260.58" y="490.4" font-family='"Liberation Serif","DejaVu Serif",serif' font-size="6.6" font-weight="bold" font-style="italic" fill="#000" text-anchor="start" transform="rotate(-90 260.58 490.4)" textLength="30.8" lengthAdjust="spacingAndGlyphs">TNFRSF25</text>
<rect x="320.00" y="-2.00" width="146.20" height="53.60" fill="#fff" stroke="#000" stroke-width="1.2"/>
<line x1="337.90" y1="-2.00" x2="337.90" y2="51.50" stroke="#000" stroke-width="1"/>
<line x1="356.20" y1="-2.00" x2="356.20" y2="51.50" stroke="#000" stroke-width="1"/>
<line x1="374.50" y1="-2.00" x2="374.50" y2="51.50" stroke="#000" stroke-width="1"/>
<line x1="392.80" y1="-2.00" x2="392.80" y2="51.50" stroke="#000" stroke-width="1"/>
<line x1="411.10" y1="-2.00" x2="411.10" y2="51.50" stroke="#000" stroke-width="1"/>
<line x1="429.40" y1="-2.00" x2="429.40" y2="51.50" stroke="#000" stroke-width="1"/>
<line x1="447.70" y1="-2.00" x2="447.70" y2="51.50" stroke="#000" stroke-width="1"/>
<text x="332.55" y="41.5" font-family='"Liberation Serif","DejaVu Serif",serif' font-size="11" font-weight="bold" font-style="normal" fill="#000" text-anchor="start" transform="rotate(-90 332.55 41.5)" textLength="31" lengthAdjust="spacingAndGlyphs">LD419</text>
<text x="350.85" y="35.5" font-family='"Liberation Serif","DejaVu Serif",serif' font-size="11" font-weight="bold" font-style="normal" fill="#000" text-anchor="start" transform="rotate(-90 350.85 35.5)" textLength="16.5" lengthAdjust="spacingAndGlyphs">J82</text>
<text x="369.15000000000003" y="41.5" font-family='"Liberation Serif","DejaVu Serif",serif' font-size="11" font-weight="bold" font-style="normal" fill="#000" text-anchor="start" transform="rotate(-90 369.15000000000003 41.5)" textLength="31" lengthAdjust="spacingAndGlyphs">LD137</text>
<text x="387.45" y="37.5" font-family='"Liberation Serif","DejaVu Serif",serif' font-size="11" font-weight="bold" font-style="normal" fill="#000" text-anchor="start" transform="rotate(-90 387.45 37.5)" textLength="17.5" lengthAdjust="spacingAndGlyphs">HT9</text>
<text x="405.75" y="41.5" font-family='"Liberation Serif","DejaVu Serif",serif' font-size="11" font-weight="bold" font-style="normal" fill="#000" text-anchor="start" transform="rotate(-90 405.75 41.5)" textLength="31" lengthAdjust="spacingAndGlyphs">LD605</text>
<text x="424.05" y="39" font-family='"Liberation Serif","DejaVu Serif",serif' font-size="11" font-weight="bold" font-style="normal" fill="#000" text-anchor="start" transform="rotate(-90 424.05 39)" textLength="14.5" lengthAdjust="spacingAndGlyphs">T24</text>
<text x="442.35" y="46.5" font-family='"Liberation Serif","DejaVu Serif",serif' font-size="11" font-weight="bold" font-style="normal" fill="#000" text-anchor="start" transform="rotate(-90 442.35 46.5)" textLength="40.5" lengthAdjust="spacingAndGlyphs">SCaBER</text>
<text x="460.65000000000003" y="49.3" font-family='"Liberation Serif","DejaVu Serif",serif' font-size="11" font-weight="bold" font-style="normal" fill="#000" text-anchor="start" transform="rotate(-90 460.65000000000003 49.3)" textLength="46" lengthAdjust="spacingAndGlyphs">UM-UC-3</text>
<defs><filter id="bl" x="-30%" y="-200%" width="160%" height="500%"><feGaussianBlur stdDeviation="0.55"/></filter><filter id="bl2" x="-30%" y="-300%" width="160%" height="700%"><feGaussianBlur stdDeviation="1.0"/></filter></defs>
<rect x="319.60" y="56.00" width="146.60" height="24.80" fill="#000" stroke="none" stroke-width="1"/>
<rect x="341.98" y="66.55" width="13.70" height="4.10" fill="#5868c8" stroke="none" stroke-width="1" opacity="0.60" filter="url(#bl2)"/>
<rect x="342.33" y="67.30" width="13.00" height="2.60" fill="#ffffff" stroke="none" stroke-width="1" opacity="1.00" filter="url(#bl)" rx="1.20"/>
<rect x="360.06" y="66.25" width="13.70" height="4.10" fill="#5868c8" stroke="none" stroke-width="1" opacity="0.60" filter="url(#bl2)"/>
<rect x="360.41" y="67.00" width="13.00" height="2.60" fill="#ffffff" stroke="none" stroke-width="1" opacity="1.00" filter="url(#bl)" rx="1.20"/>
<rect x="378.14" y="66.65" width="13.70" height="3.90" fill="#5868c8" stroke="none" stroke-width="1" opacity="0.60" filter="url(#bl2)"/>
<rect x="378.49" y="67.40" width="13.00" height="2.40" fill="#ffffff" stroke="none" stroke-width="1" opacity="1.00" filter="url(#bl)" rx="1.20"/>
<rect x="395.87" y="67.00" width="14.40" height="4.20" fill="#5868c8" stroke="none" stroke-width="1" opacity="0.60" filter="url(#bl2)"/>
<rect x="396.22" y="67.75" width="13.70" height="2.70" fill="#ffffff" stroke="none" stroke-width="1" opacity="1.00" filter="url(#bl)" rx="1.20"/>
<rect x="450.31" y="68.10" width="14.00" height="4.20" fill="#5868c8" stroke="none" stroke-width="1" opacity="0.60" filter="url(#bl2)"/>
<rect x="450.66" y="68.85" width="13.30" height="2.70" fill="#ffffff" stroke="none" stroke-width="1" opacity="1.00" filter="url(#bl)" rx="1.20"/>
<text x="471.4" y="71.7" font-family='"Liberation Serif","DejaVu Serif",serif' font-size="10.4" font-weight="bold" font-style="normal" fill="#000" text-anchor="start" textLength="44.8" lengthAdjust="spacingAndGlyphs">Expression</text>
<rect x="320.10" y="83.70" width="145.60" height="15.30" fill="#000" stroke="none" stroke-width="1"/>
<rect x="321.45" y="85.05" width="16.68" height="12.60" fill="#7d8a8a" stroke="none" stroke-width="1"/>
<rect x="339.48" y="85.05" width="16.68" height="12.60" fill="#7d8a8a" stroke="none" stroke-width="1"/>
<rect x="357.51" y="85.05" width="16.68" height="12.60" fill="#7d8a8a" stroke="none" stroke-width="1"/>
<rect x="375.54" y="85.05" width="16.68" height="12.60" fill="#7d8a8a" stroke="none" stroke-width="1"/>
<rect x="393.57" y="85.05" width="16.68" height="12.60" fill="#7d8a8a" stroke="none" stroke-width="1"/>
<rect x="411.60" y="85.05" width="16.68" height="12.60" fill="#7d8a8a" stroke="none" stroke-width="1"/>
<rect x="429.63" y="85.05" width="16.68" height="12.60" fill="#ff1414" stroke="none" stroke-width="1"/>
<rect x="447.66" y="85.05" width="16.68" height="12.60" fill="#3054f8" stroke="none" stroke-width="1"/>
<text x="469.3" y="94.6" font-family='"Liberation Serif","DejaVu Serif",serif' font-size="10.4" font-weight="bold" font-style="normal" fill="#000" text-anchor="start" textLength="49.8" lengthAdjust="spacingAndGlyphs">Methylation</text>
<text x="312.9" y="91" font-family='"Liberation Serif","DejaVu Serif",serif' font-size="11.6" font-weight="bold" font-style="italic" fill="#000" text-anchor="start" transform="rotate(-90 312.9 91)" textLength="30" lengthAdjust="spacingAndGlyphs">DAPK</text>
<line x1="314.50" y1="60.70" x2="314.50" y2="91.30" stroke="#000" stroke-width="1"/>
<rect x="319.60" y="111.70" width="146.60" height="24.80" fill="#000" stroke="none" stroke-width="1"/>
<rect x="342.72" y="123.35" width="12.10" height="3.30" fill="#5868c8" stroke="none" stroke-width="1" opacity="0.48" filter="url(#bl2)"/>
<rect x="343.07" y="124.10" width="11.40" height="1.80" fill="#f4f4f8" stroke="none" stroke-width="1" opacity="1.00" filter="url(#bl)" rx="0.90"/>
<rect x="359.69" y="122.30" width="14.20" height="5.40" fill="#5868c8" stroke="none" stroke-width="1" opacity="0.60" filter="url(#bl2)"/>
<rect x="360.04" y="123.05" width="13.50" height="3.90" fill="#ffffff" stroke="none" stroke-width="1" opacity="1.00" filter="url(#bl)" rx="1.20"/>
<rect x="378.46" y="123.10" width="12.70" height="3.80" fill="#5868c8" stroke="none" stroke-width="1" opacity="0.54" filter="url(#bl2)"/>
<rect x="378.81" y="123.85" width="12.00" height="2.30" fill="#ffffff" stroke="none" stroke-width="1" opacity="1.00" filter="url(#bl)" rx="1.15"/>
<rect x="398.13" y="123.70" width="9.40" height="2.60" fill="#5868c8" stroke="none" stroke-width="1" opacity="0.18" filter="url(#bl2)"/>
<rect x="398.48" y="124.45" width="8.70" height="1.10" fill="#a1a7c6" stroke="none" stroke-width="1" opacity="0.57" filter="url(#bl)" rx="0.55"/>
<rect x="413.25" y="122.20" width="15.20" height="5.60" fill="#5868c8" stroke="none" stroke-width="1" opacity="0.60" filter="url(#bl2)"/>
<rect x="413.60" y="122.95" width="14.50" height="4.10" fill="#ffffff" stroke="none" stroke-width="1" opacity="1.00" filter="url(#bl)" rx="1.20"/>
<rect x="433.57" y="123.40" width="10.60" height="3.20" fill="#5868c8" stroke="none" stroke-width="1" opacity="0.48" filter="url(#bl2)"/>
<rect x="433.92" y="124.15" width="9.90" height="1.70" fill="#f4f4f8" stroke="none" stroke-width="1" opacity="1.00" filter="url(#bl)" rx="0.85"/>
<rect x="450.09" y="122.70" width="13.60" height="4.60" fill="#5868c8" stroke="none" stroke-width="1" opacity="0.60" filter="url(#bl2)"/>
<rect x="450.44" y="123.45" width="12.90" height="3.10" fill="#ffffff" stroke="none" stroke-width="1" opacity="1.00" filter="url(#bl)" rx="1.20"/>
<text x="471.4" y="127.4" font-family='"Liberation Serif","DejaVu Serif",serif' font-size="10.4" font-weight="bold" font-style="normal" fill="#000" text-anchor="start" textLength="44.8" lengthAdjust="spacingAndGlyphs">Expression</text>
<rect x="320.10" y="139.40" width="145.60" height="15.30" fill="#000" stroke="none" stroke-width="1"/>
<rect x="321.45" y="140.75" width="16.68" height="12.60" fill="#7d8a8a" stroke="none" stroke-width="1"/>
<rect x="339.48" y="140.75" width="16.68" height="12.60" fill="#7d8a8a" stroke="none" stroke-width="1"/>
<rect x="357.51" y="140.75" width="16.68" height="12.60" fill="#7d8a8a" stroke="none" stroke-width="1"/>
<rect x="375.54" y="140.75" width="16.68" height="12.60" fill="#7d8a8a" stroke="none" stroke-width="1"/>
<rect x="393.57" y="140.75" width="16.68" height="12.60" fill="#ff1414" stroke="none" stroke-width="1"/>
<rect x="411.60" y="140.75" width="16.68" height="12.60" fill="#ff6e16" stroke="none" stroke-width="1"/>
<rect x="429.63" y="140.75" width="16.68" height="12.60" fill="#3054f8" stroke="none" stroke-width="1"/>
<rect x="447.66" y="140.75" width="16.68" height="12.60" fill="#ff6e16" stroke="none" stroke-width="1"/>
<text x="469.3" y="150.3" font-family='"Liberation Serif","DejaVu Serif",serif' font-size="10.4" font-weight="bold" font-style="normal" fill="#000" text-anchor="start" textLength="49.8" lengthAdjust="spacingAndGlyphs">Methylation</text>
<text x="312.9" y="147.5" font-family='"Liberation Serif","DejaVu Serif",serif' font-size="11.6" font-weight="bold" font-style="italic" fill="#000" text-anchor="start" transform="rotate(-90 312.9 147.5)" textLength="26.5" lengthAdjust="spacingAndGlyphs">BCL2</text>
<line x1="314.50" y1="120.70" x2="314.50" y2="147.80" stroke="#000" stroke-width="1"/>
<rect x="319.60" y="166.80" width="146.60" height="24.80" fill="#000" stroke="none" stroke-width="1"/>
<rect x="324.45" y="177.50" width="12.80" height="3.00" fill="#5060c0" stroke="none" stroke-width="1" opacity="0.55" filter="url(#bl2)"/>
<rect x="324.65" y="177.90" width="12.40" height="2.20" fill="#f4f6ff" stroke="none" stroke-width="1" filter="url(#bl)"/>
<rect x="325.55" y="181.90" width="10.60" height="1.10" fill="#8890c4" stroke="none" stroke-width="1" filter="url(#bl)"/>
<rect x="342.55" y="177.50" width="12.80" height="3.00" fill="#5060c0" stroke="none" stroke-width="1" opacity="0.55" filter="url(#bl2)"/>
<rect x="342.75" y="177.90" width="12.40" height="2.20" fill="#f4f6ff" stroke="none" stroke-width="1" filter="url(#bl)"/>
<rect x="343.65" y="181.90" width="10.60" height="1.10" fill="#8890c4" stroke="none" stroke-width="1" filter="url(#bl)"/>
<rect x="396.85" y="177.50" width="12.80" height="3.00" fill="#5060c0" stroke="none" stroke-width="1" opacity="0.55" filter="url(#bl2)"/>
<rect x="397.05" y="177.90" width="12.40" height="2.20" fill="#f4f6ff" stroke="none" stroke-width="1" filter="url(#bl)"/>
<rect x="397.95" y="181.90" width="10.60" height="1.10" fill="#8890c4" stroke="none" stroke-width="1" filter="url(#bl)"/>
<rect x="434.50" y="178.25" width="9.90" height="2.90" fill="#5868c8" stroke="none" stroke-width="1" opacity="0.27" filter="url(#bl2)"/>
<rect x="434.85" y="179.00" width="9.20" height="1.40" fill="#babed5" stroke="none" stroke-width="1" opacity="0.71" filter="url(#bl)" rx="0.70"/>
<text x="471.4" y="182.5" font-family='"Liberation Serif","DejaVu Serif",serif' font-size="10.4" font-weight="bold" font-style="normal" fill="#000" text-anchor="start" textLength="44.8" lengthAdjust="spacingAndGlyphs">Expression</text>
<rect x="320.10" y="194.50" width="145.60" height="15.30" fill="#000" stroke="none" stroke-width="1"/>
<rect x="321.45" y="195.85" width="16.68" height="12.60" fill="#7d8a8a" stroke="none" stroke-width="1"/>
<rect x="339.48" y="195.85" width="16.68" height="12.60" fill="#7d8a8a" stroke="none" stroke-width="1"/>
<rect x="357.51" y="195.85" width="16.68" height="12.60" fill="#ff1414" stroke="none" stroke-width="1"/>
<rect x="375.54" y="195.85" width="16.68" height="12.60" fill="#ffff08" stroke="none" stroke-width="1"/>
<rect x="393.57" y="195.85" width="16.68" height="12.60" fill="#7d8a8a" stroke="none" stroke-width="1"/>
<rect x="411.60" y="195.85" width="16.68" height="12.60" fill="#ff1414" stroke="none" stroke-width="1"/>
<rect x="429.63" y="195.85" width="16.68" height="12.60" fill="#7d8a8a" stroke="none" stroke-width="1"/>
<rect x="447.66" y="195.85" width="16.68" height="12.60" fill="#ff1414" stroke="none" stroke-width="1"/>
<text x="469.3" y="205.4" font-family='"Liberation Serif","DejaVu Serif",serif' font-size="10.4" font-weight="bold" font-style="normal" fill="#000" text-anchor="start" textLength="49.8" lengthAdjust="spacingAndGlyphs">Methylation</text>
<text x="312.9" y="209" font-family='"Liberation Serif","DejaVu Serif",serif' font-size="11.6" font-weight="bold" font-style="italic" fill="#000" text-anchor="start" transform="rotate(-90 312.9 209)" textLength="43.19999999999999" lengthAdjust="spacingAndGlyphs">RASSF1A</text>
<line x1="314.50" y1="165.50" x2="314.50" y2="209.30" stroke="#000" stroke-width="1"/>
<rect x="319.60" y="222.20" width="146.60" height="24.80" fill="#000" stroke="none" stroke-width="1"/>
<rect x="359.20" y="233.30" width="12.70" height="4.20" fill="#5868c8" stroke="none" stroke-width="1" opacity="0.33" filter="url(#bl2)"/>
<rect x="359.55" y="234.05" width="12.00" height="2.70" fill="#cacddf" stroke="none" stroke-width="1" opacity="0.80" filter="url(#bl)" rx="1.20"/>
<rect x="378.65" y="233.80" width="10.40" height="3.20" fill="#5868c8" stroke="none" stroke-width="1" opacity="0.12" filter="url(#bl2)"/>
<rect x="379.00" y="234.55" width="9.70" height="1.70" fill="#9197bc" stroke="none" stroke-width="1" opacity="0.48" filter="url(#bl)" rx="0.85"/>
<rect x="395.45" y="233.25" width="13.40" height="4.30" fill="#5868c8" stroke="none" stroke-width="1" opacity="0.45" filter="url(#bl2)"/>
<rect x="395.80" y="234.00" width="12.70" height="2.80" fill="#ebecf3" stroke="none" stroke-width="1" opacity="0.98" filter="url(#bl)" rx="1.20"/>
<rect x="414.35" y="233.35" width="12.20" height="4.10" fill="#5868c8" stroke="none" stroke-width="1" opacity="0.36" filter="url(#bl2)"/>
<rect x="414.70" y="234.10" width="11.50" height="2.60" fill="#d3d5e4" stroke="none" stroke-width="1" opacity="0.84" filter="url(#bl)" rx="1.20"/>
<rect x="433.45" y="233.35" width="10.60" height="4.10" fill="#5868c8" stroke="none" stroke-width="1" opacity="0.33" filter="url(#bl2)"/>
<rect x="433.80" y="234.10" width="9.90" height="2.60" fill="#cacddf" stroke="none" stroke-width="1" opacity="0.80" filter="url(#bl)" rx="1.20"/>
<rect x="449.95" y="233.15" width="14.20" height="5.10" fill="#5868c8" stroke="none" stroke-width="1" opacity="0.60" filter="url(#bl2)"/>
<rect x="450.30" y="233.90" width="13.50" height="3.60" fill="#ffffff" stroke="none" stroke-width="1" opacity="1.00" filter="url(#bl)" rx="1.20"/>
<text x="471.4" y="237.89999999999998" font-family='"Liberation Serif","DejaVu Serif",serif' font-size="10.4" font-weight="bold" font-style="normal" fill="#000" text-anchor="start" textLength="44.8" lengthAdjust="spacingAndGlyphs">Expression</text>
<rect x="320.10" y="249.90" width="145.60" height="15.30" fill="#000" stroke="none" stroke-width="1"/>
<rect x="321.45" y="251.25" width="16.68" height="12.60" fill="#7d8a8a" stroke="none" stroke-width="1"/>
<rect x="339.48" y="251.25" width="16.68" height="12.60" fill="#ffff08" stroke="none" stroke-width="1"/>
<rect x="357.51" y="251.25" width="16.68" height="12.60" fill="#7d8a8a" stroke="none" stroke-width="1"/>
<rect x="375.54" y="251.25" width="16.68" height="12.60" fill="#ff1414" stroke="none" stroke-width="1"/>
<rect x="393.57" y="251.25" width="16.68" height="12.60" fill="#3054f8" stroke="none" stroke-width="1"/>
<rect x="411.60" y="251.25" width="16.68" height="12.60" fill="#ff1414" stroke="none" stroke-width="1"/>
<rect x="429.63" y="251.25" width="16.68" height="12.60" fill="#ff6e16" stroke="none" stroke-width="1"/>
<rect x="447.66" y="251.25" width="16.68" height="12.60" fill="#ffff08" stroke="none" stroke-width="1"/>
<text x="469.3" y="260.8" font-family='"Liberation Serif","DejaVu Serif",serif' font-size="10.4" font-weight="bold" font-style="normal" fill="#000" text-anchor="start" textLength="49.8" lengthAdjust="spacingAndGlyphs">Methylation</text>
<text x="312.9" y="255.9" font-family='"Liberation Serif","DejaVu Serif",serif' font-size="11.6" font-weight="bold" font-style="italic" fill="#000" text-anchor="start" transform="rotate(-90 312.9 255.9)" textLength="28.0" lengthAdjust="spacingAndGlyphs">TERT</text>
<line x1="314.50" y1="227.60" x2="314.50" y2="256.20" stroke="#000" stroke-width="1"/>
<rect x="319.60" y="277.40" width="146.60" height="24.80" fill="#000" stroke="none" stroke-width="1"/>
<rect x="326.95" y="290.10" width="7.40" height="2.60" fill="#5868c8" stroke="none" stroke-width="1" opacity="0.09" filter="url(#bl2)"/>
<rect x="327.30" y="290.85" width="6.70" height="1.10" fill="#898fb7" stroke="none" stroke-width="1" opacity="0.43" filter="url(#bl)" rx="0.55"/>
<rect x="343.55" y="289.65" width="9.90" height="3.10" fill="#5868c8" stroke="none" stroke-width="1" opacity="0.36" filter="url(#bl2)"/>
<rect x="343.90" y="290.40" width="9.20" height="1.60" fill="#d3d5e4" stroke="none" stroke-width="1" opacity="0.84" filter="url(#bl)" rx="0.80"/>
<rect x="359.65" y="288.75" width="13.40" height="4.30" fill="#5868c8" stroke="none" stroke-width="1" opacity="0.60" filter="url(#bl2)"/>
<rect x="360.00" y="289.50" width="12.70" height="2.80" fill="#ffffff" stroke="none" stroke-width="1" opacity="1.00" filter="url(#bl)" rx="1.20"/>
<rect x="377.25" y="288.65" width="13.90" height="4.50" fill="#5868c8" stroke="none" stroke-width="1" opacity="0.60" filter="url(#bl2)"/>
<rect x="377.60" y="289.40" width="13.20" height="3.00" fill="#ffffff" stroke="none" stroke-width="1" opacity="1.00" filter="url(#bl)" rx="1.20"/>
<rect x="395.45" y="288.45" width="13.20" height="4.10" fill="#5868c8" stroke="none" stroke-width="1" opacity="0.60" filter="url(#bl2)"/>
<rect x="395.80" y="289.20" width="12.50" height="2.60" fill="#ffffff" stroke="none" stroke-width="1" opacity="1.00" filter="url(#bl)" rx="1.20"/>
<rect x="413.10" y="287.85" width="13.60" height="4.30" fill="#5868c8" stroke="none" stroke-width="1" opacity="0.60" filter="url(#bl2)"/>
<rect x="413.45" y="288.60" width="12.90" height="2.80" fill="#ffffff" stroke="none" stroke-width="1" opacity="1.00" filter="url(#bl)" rx="1.20"/>
<rect x="431.05" y="288.10" width="13.40" height="4.20" fill="#5868c8" stroke="none" stroke-width="1" opacity="0.60" filter="url(#bl2)"/>
<rect x="431.40" y="288.85" width="12.70" height="2.70" fill="#ffffff" stroke="none" stroke-width="1" opacity="1.00" filter="url(#bl)" rx="1.20"/>
<rect x="449.00" y="288.10" width="13.20" height="4.20" fill="#5868c8" stroke="none" stroke-width="1" opacity="0.60" filter="url(#bl2)"/>
<rect x="449.35" y="288.85" width="12.50" height="2.70" fill="#ffffff" stroke="none" stroke-width="1" opacity="1.00" filter="url(#bl)" rx="1.20"/>
<text x="472.29999999999995" y="293.09999999999997" font-family='"Liberation Serif","DejaVu Serif",serif' font-size="10.4" font-weight="bold" font-style="normal" fill="#000" text-anchor="start" textLength="44.8" lengthAdjust="spacingAndGlyphs">Expression</text>
<rect x="320.10" y="305.10" width="145.60" height="15.30" fill="#000" stroke="none" stroke-width="1"/>
<rect x="321.45" y="306.45" width="16.68" height="12.60" fill="#7d8a8a" stroke="none" stroke-width="1"/>
<rect x="339.48" y="306.45" width="16.68" height="12.60" fill="#ff1414" stroke="none" stroke-width="1"/>
<rect x="357.51" y="306.45" width="16.68" height="12.60" fill="#ff1414" stroke="none" stroke-width="1"/>
<rect x="375.54" y="306.45" width="16.68" height="12.60" fill="#ff1414" stroke="none" stroke-width="1"/>
<rect x="393.57" y="306.45" width="16.68" height="12.60" fill="#229a16" stroke="none" stroke-width="1"/>
<rect x="411.60" y="306.45" width="16.68" height="12.60" fill="#ff1414" stroke="none" stroke-width="1"/>
<rect x="429.63" y="306.45" width="16.68" height="12.60" fill="#7d8a8a" stroke="none" stroke-width="1"/>
<rect x="447.66" y="306.45" width="16.68" height="12.60" fill="#229a16" stroke="none" stroke-width="1"/>
<text x="470.3" y="316.0" font-family='"Liberation Serif","DejaVu Serif",serif' font-size="10.4" font-weight="bold" font-style="normal" fill="#000" text-anchor="start" textLength="49.8" lengthAdjust="spacingAndGlyphs">Methylation</text>
<text x="312.9" y="324.4" font-family='"Liberation Serif","DejaVu Serif",serif' font-size="11.6" font-weight="bold" font-style="italic" fill="#000" text-anchor="start" transform="rotate(-90 312.9 324.4)" textLength="47.0" lengthAdjust="spacingAndGlyphs">TNFRSF25</text>
<line x1="314.50" y1="277.10" x2="314.50" y2="324.70" stroke="#000" stroke-width="1"/>
<rect x="319.60" y="331.90" width="146.60" height="24.80" fill="#000" stroke="none" stroke-width="1"/>
<rect x="324.55" y="344.00" width="13.60" height="3.80" fill="#5868c8" stroke="none" stroke-width="1" opacity="0.60" filter="url(#bl2)"/>
<rect x="324.90" y="344.75" width="12.90" height="2.30" fill="#ffffff" stroke="none" stroke-width="1" opacity="1.00" filter="url(#bl)" rx="1.15"/>
<rect x="342.35" y="343.80" width="13.60" height="3.80" fill="#5868c8" stroke="none" stroke-width="1" opacity="0.60" filter="url(#bl2)"/>
<rect x="342.70" y="344.55" width="12.90" height="2.30" fill="#ffffff" stroke="none" stroke-width="1" opacity="1.00" filter="url(#bl)" rx="1.15"/>
<rect x="360.15" y="343.80" width="13.60" height="3.80" fill="#5868c8" stroke="none" stroke-width="1" opacity="0.60" filter="url(#bl2)"/>
<rect x="360.50" y="344.55" width="12.90" height="2.30" fill="#ffffff" stroke="none" stroke-width="1" opacity="1.00" filter="url(#bl)" rx="1.15"/>
<rect x="377.95" y="343.70" width="13.60" height="3.80" fill="#5868c8" stroke="none" stroke-width="1" opacity="0.60" filter="url(#bl2)"/>
<rect x="378.30" y="344.45" width="12.90" height="2.30" fill="#ffffff" stroke="none" stroke-width="1" opacity="1.00" filter="url(#bl)" rx="1.15"/>
<rect x="395.75" y="343.30" width="13.60" height="4.00" fill="#5868c8" stroke="none" stroke-width="1" opacity="0.60" filter="url(#bl2)"/>
<rect x="396.10" y="344.05" width="12.90" height="2.50" fill="#ffffff" stroke="none" stroke-width="1" opacity="1.00" filter="url(#bl)" rx="1.20"/>
<rect x="413.55" y="343.60" width="13.60" height="3.80" fill="#5868c8" stroke="none" stroke-width="1" opacity="0.60" filter="url(#bl2)"/>
<rect x="413.90" y="344.35" width="12.90" height="2.30" fill="#ffffff" stroke="none" stroke-width="1" opacity="1.00" filter="url(#bl)" rx="1.15"/>
<rect x="431.35" y="343.60" width="13.60" height="3.80" fill="#5868c8" stroke="none" stroke-width="1" opacity="0.60" filter="url(#bl2)"/>
<rect x="431.70" y="344.35" width="12.90" height="2.30" fill="#ffffff" stroke="none" stroke-width="1" opacity="1.00" filter="url(#bl)" rx="1.15"/>
<rect x="449.15" y="343.40" width="13.60" height="3.80" fill="#5868c8" stroke="none" stroke-width="1" opacity="0.60" filter="url(#bl2)"/>
<rect x="449.50" y="344.15" width="12.90" height="2.30" fill="#ffffff" stroke="none" stroke-width="1" opacity="1.00" filter="url(#bl)" rx="1.15"/>
<text x="472.29999999999995" y="347.59999999999997" font-family='"Liberation Serif","DejaVu Serif",serif' font-size="10.4" font-weight="bold" font-style="normal" fill="#000" text-anchor="start" textLength="44.8" lengthAdjust="spacingAndGlyphs">Expression</text>
<text x="276.9" y="348" font-family='"Liberation Serif","DejaVu Serif",serif' font-size="10.8" font-weight="bold" font-style="italic" fill="#000" text-anchor="start" textLength="36.1" lengthAdjust="spacingAndGlyphs">GAPDH</text>
<line x1="276.50" y1="349.70" x2="313.50" y2="349.70" stroke="#000" stroke-width="1.1"/>
</svg></body></html>
